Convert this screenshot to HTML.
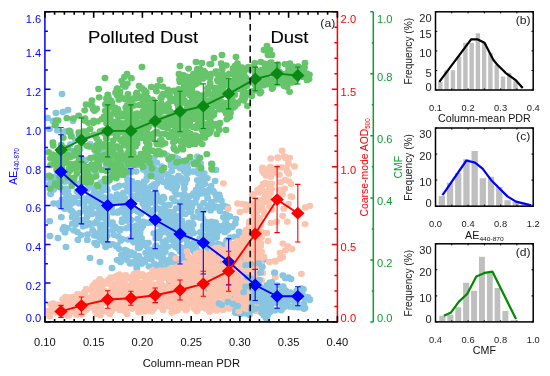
<!DOCTYPE html>
<html><head><meta charset="utf-8"><title>Figure</title>
<style>html,body{margin:0;padding:0;background:#fff}svg{display:block}</style>
</head><body>
<svg width="550" height="376" viewBox="0 0 550 376" font-family='"Liberation Sans", sans-serif'>
<path d="M168.8 177.0h0.6M61.0 217.2h0.6M121.6 221.9h0.6M182.8 264.9h0.6M245.8 278.9h0.6M222.8 250.1h0.6M134.0 231.2h0.6M229.7 216.3h0.6M116.9 245.4h0.6M115.6 166.9h0.6M140.0 165.0h0.6M218.4 230.7h0.6M64.8 131.5h0.6M141.4 241.2h0.6M228.5 291.7h0.6M65.6 163.0h0.6M90.8 165.1h0.6M237.7 267.8h0.6M198.2 173.5h0.6M197.3 253.2h0.6M205.3 192.1h0.6M206.3 266.9h0.6M119.7 259.9h0.6M175.9 225.9h0.6M170.7 165.8h0.6M159.4 199.9h0.6M118.2 186.3h0.6M232.0 227.1h0.6M188.8 267.4h0.6M192.6 260.5h0.6M207.0 193.4h0.6M147.8 222.8h0.6M131.0 227.6h0.6M158.2 180.1h0.6M205.8 287.1h0.6M124.8 249.8h0.6M197.9 263.1h0.6M161.6 221.6h0.6M189.9 226.7h0.6M122.1 219.4h0.6M130.7 210.2h0.6M81.5 136.6h0.6M244.5 313.3h0.6M156.6 183.6h0.6M202.2 218.2h0.6M243.8 255.8h0.6M149.8 158.8h0.6M170.5 162.3h0.6M235.3 291.6h0.6M211.0 242.2h0.6M183.4 183.9h0.6M193.0 250.6h0.6M145.9 180.3h0.6M127.7 157.2h0.6M165.1 268.2h0.6M143.7 205.3h0.6M96.6 197.3h0.6M135.2 225.8h0.6M154.4 209.5h0.6M50.3 179.8h0.6M60.4 163.9h0.6M161.1 202.1h0.6M164.0 209.8h0.6M125.3 220.7h0.6M241.1 280.2h0.6M198.1 271.5h0.6M72.7 152.8h0.6M186.3 226.4h0.6M193.3 217.2h0.6M214.8 181.0h0.6M89.9 200.2h0.6M123.7 198.1h0.6M103.7 216.1h0.6M106.8 223.1h0.6M171.3 182.9h0.6M190.2 259.0h0.6M187.9 246.9h0.6M144.7 261.5h0.6M125.4 255.6h0.6M209.1 234.0h0.6M210.9 201.8h0.6M174.4 264.5h0.6M241.9 273.0h0.6M177.1 218.9h0.6M149.0 255.2h0.6M143.2 183.2h0.6M203.5 260.3h0.6M137.7 183.1h0.6M184.0 276.3h0.6M79.0 159.7h0.6M70.1 131.5h0.6M139.0 245.5h0.6M155.4 198.8h0.6M109.3 203.6h0.6M49.2 128.9h0.6M175.3 281.9h0.6M233.5 262.6h0.6M208.5 234.5h0.6M230.4 286.5h0.6M137.8 211.7h0.6M187.3 167.5h0.6M233.8 308.8h0.6M211.2 290.4h0.6M224.7 261.7h0.6M191.1 283.9h0.6M109.6 196.3h0.6M141.8 190.1h0.6M105.2 183.6h0.6M234.8 293.7h0.6M227.1 230.3h0.6M199.4 294.8h0.6M127.1 210.6h0.6M167.7 270.6h0.6M237.7 282.7h0.6M63.2 199.7h0.6M207.0 178.1h0.6M136.6 184.6h0.6M70.0 144.3h0.6M79.7 149.3h0.6M144.0 199.0h0.6M223.5 225.3h0.6M185.9 227.7h0.6M69.7 181.5h0.6M165.9 240.4h0.6M169.0 204.9h0.6M192.3 204.0h0.6M217.1 296.8h0.6M189.1 236.8h0.6M156.4 195.1h0.6M191.1 224.6h0.6M244.0 295.3h0.6M91.0 214.0h0.6M240.6 286.1h0.6M113.4 157.9h0.6M175.2 263.7h0.6M218.7 226.1h0.6M137.6 199.1h0.6M164.4 205.2h0.6M148.6 266.3h0.6M135.0 256.1h0.6M209.0 233.3h0.6M156.0 201.2h0.6M183.3 164.9h0.6M202.8 235.2h0.6M162.4 272.7h0.6M161.4 225.7h0.6M70.8 135.1h0.6M164.5 260.4h0.6M125.6 206.8h0.6M60.2 166.8h0.6M94.1 190.8h0.6M137.8 248.0h0.6M209.1 250.1h0.6M225.3 259.1h0.6M231.4 307.1h0.6M181.1 224.8h0.6M158.5 235.5h0.6M143.9 181.4h0.6M182.7 198.4h0.6M167.9 185.8h0.6M138.4 256.0h0.6M170.5 234.1h0.6M111.4 207.2h0.6M186.5 173.5h0.6M130.8 172.1h0.6M186.4 179.2h0.6M237.7 283.6h0.6M171.2 177.6h0.6M208.8 241.1h0.6M245.6 267.4h0.6M206.5 229.2h0.6M178.2 175.8h0.6M137.0 190.1h0.6M237.9 249.6h0.6M184.2 251.8h0.6M133.6 234.1h0.6M243.2 299.6h0.6M182.8 164.0h0.6M210.1 271.2h0.6M101.4 151.7h0.6M158.5 224.6h0.6M198.7 193.9h0.6M165.0 251.8h0.6M185.1 204.4h0.6M222.0 270.6h0.6M120.0 197.1h0.6M129.9 183.3h0.6M145.5 243.2h0.6M131.9 255.0h0.6M118.8 248.8h0.6M194.2 252.3h0.6M164.9 227.7h0.6M145.3 209.6h0.6M193.0 262.4h0.6M63.2 161.2h0.6M113.7 234.8h0.6M186.7 268.6h0.6M184.5 252.0h0.6M197.0 180.1h0.6M200.6 285.2h0.6M215.9 195.6h0.6M153.8 184.4h0.6M247.6 269.0h0.6M248.7 290.8h0.6M128.0 203.7h0.6M126.3 228.2h0.6M160.6 271.6h0.6M100.7 182.5h0.6M105.7 168.1h0.6M133.8 242.4h0.6M150.3 197.8h0.6M163.7 198.4h0.6M208.0 226.3h0.6M221.2 271.0h0.6M205.4 221.7h0.6M175.1 225.3h0.6M237.1 249.0h0.6M169.1 230.4h0.6M171.4 239.9h0.6M103.3 230.0h0.6M219.7 244.6h0.6M159.4 270.7h0.6M202.7 190.5h0.6M232.7 265.1h0.6M83.5 165.0h0.6M201.8 183.6h0.6M203.1 251.4h0.6M225.4 276.8h0.6M230.9 226.4h0.6M121.9 239.0h0.6M184.8 183.3h0.6M178.4 238.0h0.6M197.0 172.6h0.6M234.2 248.7h0.6M175.5 259.0h0.6M197.7 251.1h0.6M173.6 245.3h0.6M173.2 221.6h0.6M95.4 173.3h0.6M226.2 218.7h0.6M220.3 248.7h0.6M245.0 281.9h0.6M198.4 241.8h0.6M201.6 253.9h0.6M163.5 252.9h0.6M203.1 225.3h0.6M137.0 229.9h0.6M129.7 263.6h0.6M131.6 181.2h0.6M199.7 206.5h0.6M231.9 283.0h0.6M95.9 243.5h0.6M175.5 247.1h0.6M149.4 194.9h0.6M116.2 246.5h0.6M126.7 185.1h0.6M239.0 236.5h0.6M144.6 206.9h0.6M122.0 200.5h0.6M186.3 164.4h0.6M73.1 197.8h0.6M165.8 174.2h0.6M49.0 184.6h0.6M116.5 165.1h0.6M204.0 227.6h0.6M72.8 150.9h0.6M129.5 226.2h0.6M238.8 298.9h0.6M183.5 255.0h0.6M136.1 235.8h0.6M247.5 284.5h0.6M133.6 253.6h0.6M203.0 264.4h0.6M241.9 304.1h0.6M115.2 197.5h0.6M210.3 210.4h0.6M233.2 295.6h0.6M191.1 228.4h0.6M118.0 211.5h0.6M248.9 264.0h0.6M88.3 167.0h0.6M106.6 203.9h0.6M137.4 218.9h0.6M48.6 178.5h0.6M171.9 198.3h0.6M57.4 129.4h0.6M204.0 245.7h0.6M190.6 245.9h0.6M140.9 185.4h0.6M219.6 211.1h0.6M232.8 290.7h0.6M172.6 274.6h0.6M222.4 261.6h0.6M218.8 194.6h0.6M181.0 178.1h0.6M173.7 244.8h0.6M179.6 215.5h0.6M196.1 259.9h0.6M122.5 209.0h0.6M208.4 205.4h0.6M243.2 247.6h0.6M171.7 187.6h0.6M209.3 230.8h0.6M208.7 226.5h0.6M207.8 277.6h0.6M162.6 242.2h0.6M160.7 213.2h0.6M174.7 191.7h0.6M180.9 208.3h0.6M159.7 269.7h0.6M113.8 171.1h0.6M235.0 267.8h0.6M175.6 217.1h0.6M183.7 196.9h0.6M74.3 215.6h0.6M231.5 291.8h0.6M231.8 254.6h0.6M178.0 159.0h0.6M213.6 192.2h0.6M212.6 234.4h0.6M127.5 216.2h0.6M208.0 223.7h0.6M190.0 293.8h0.6M115.8 152.8h0.6M105.4 247.1h0.6M134.5 208.9h0.6M231.4 280.4h0.6M137.9 164.4h0.6M121.1 259.9h0.6M190.4 246.8h0.6M232.8 293.2h0.6M208.4 244.2h0.6M175.1 165.9h0.6M212.8 224.6h0.6M98.8 217.8h0.6M129.4 166.7h0.6M193.0 224.6h0.6M160.4 214.3h0.6M209.7 253.9h0.6M116.5 228.4h0.6M232.4 286.4h0.6M193.1 268.9h0.6M225.6 213.8h0.6M132.4 183.9h0.6M212.3 293.5h0.6M193.4 233.1h0.6M229.3 255.7h0.6M138.7 189.6h0.6M72.1 223.7h0.6M185.8 284.1h0.6M154.1 263.9h0.6M220.1 271.2h0.6M106.8 182.3h0.6M168.1 178.6h0.6M154.7 234.0h0.6M183.6 258.3h0.6M161.6 210.6h0.6M213.0 236.5h0.6M221.1 200.6h0.6M112.2 230.5h0.6M238.3 250.9h0.6M171.3 255.2h0.6M162.5 249.0h0.6M200.9 262.9h0.6M164.7 205.4h0.6M160.0 209.5h0.6M191.3 207.7h0.6M206.6 242.9h0.6M242.3 276.8h0.6M85.6 160.0h0.6M214.3 207.6h0.6M56.1 181.5h0.6M230.2 278.6h0.6M171.6 188.4h0.6M184.2 171.5h0.6M186.1 258.8h0.6M169.4 230.6h0.6M243.2 255.8h0.6M90.3 198.2h0.6M191.2 243.8h0.6M106.9 190.2h0.6M182.7 257.5h0.6M168.7 277.0h0.6M243.6 284.0h0.6M140.4 161.9h0.6M175.9 208.4h0.6M201.9 292.2h0.6M199.2 257.2h0.6M228.4 228.3h0.6M71.7 168.7h0.6M138.6 193.9h0.6M137.7 225.4h0.6M155.5 245.7h0.6M194.8 281.1h0.6M197.0 255.2h0.6M243.2 250.5h0.6M163.0 196.9h0.6M111.9 160.7h0.6M189.0 202.5h0.6M203.0 179.5h0.6M154.2 248.3h0.6M201.0 212.5h0.6M174.0 162.8h0.6M151.3 159.4h0.6M203.7 257.6h0.6M147.9 195.8h0.6M59.1 205.2h0.6M244.0 248.6h0.6M156.8 222.8h0.6M141.9 193.7h0.6M132.7 230.3h0.6M151.3 164.0h0.6M133.1 238.7h0.6M127.9 216.2h0.6M127.0 168.8h0.6M212.7 190.8h0.6M201.6 184.0h0.6M215.8 266.0h0.6M247.8 268.0h0.6M238.1 271.3h0.6M192.3 223.4h0.6M213.9 293.7h0.6M152.9 185.1h0.6M189.0 290.9h0.6M225.0 219.0h0.6M191.9 295.2h0.6M205.5 239.2h0.6M88.1 172.1h0.6M197.8 211.8h0.6M231.0 249.7h0.6M167.8 211.5h0.6M111.4 164.5h0.6M238.0 300.1h0.6M140.6 228.8h0.6M117.7 197.8h0.6M217.2 245.1h0.6M210.9 224.3h0.6M211.3 256.5h0.6M160.7 216.8h0.6M174.0 257.0h0.6M85.2 171.0h0.6M201.1 215.5h0.6M161.9 216.1h0.6M154.5 187.4h0.6M185.0 214.1h0.6M199.5 238.4h0.6M200.5 270.1h0.6M188.7 264.9h0.6M188.1 267.2h0.6M54.3 176.9h0.6M106.2 188.1h0.6M243.1 265.3h0.6M133.0 241.4h0.6M204.4 183.7h0.6M136.5 268.5h0.6M229.7 282.2h0.6M183.7 271.6h0.6M237.8 247.7h0.6M154.7 250.1h0.6M156.5 162.6h0.6M126.8 259.8h0.6M114.9 201.8h0.6M150.7 174.0h0.6M207.1 305.6h0.6M128.5 203.1h0.6M239.7 252.4h0.6M122.4 161.3h0.6M134.7 209.8h0.6M229.5 272.3h0.6M182.9 280.4h0.6M165.0 243.4h0.6M228.6 287.7h0.6M170.8 278.3h0.6M112.8 212.6h0.6M217.7 243.9h0.6M176.4 186.4h0.6M195.0 202.0h0.6M162.6 251.1h0.6M73.8 200.6h0.6M132.3 240.8h0.6M151.4 275.1h0.6M131.9 208.6h0.6M155.5 221.5h0.6M164.4 208.2h0.6M181.6 220.6h0.6M209.9 255.4h0.6M206.0 277.6h0.6M193.6 277.2h0.6M167.3 186.6h0.6M174.4 233.9h0.6M230.2 264.6h0.6M88.2 184.6h0.6M195.7 245.7h0.6M145.3 252.9h0.6M143.6 243.9h0.6M142.2 244.7h0.6M98.5 202.6h0.6M64.5 192.5h0.6M99.3 224.6h0.6M203.9 173.4h0.6M186.4 247.0h0.6M121.4 209.8h0.6M239.9 232.4h0.6M168.4 178.5h0.6M219.0 207.1h0.6M101.7 233.9h0.6M161.4 166.4h0.6M187.7 228.9h0.6M115.8 174.3h0.6M217.1 296.7h0.6M227.3 270.3h0.6M201.5 237.4h0.6M181.6 209.7h0.6M227.9 239.8h0.6M181.7 167.3h0.6M212.6 274.8h0.6M180.2 247.1h0.6M104.7 228.4h0.6M191.0 260.2h0.6M183.3 268.5h0.6M57.7 158.9h0.6M215.7 286.1h0.6M180.7 258.9h0.6M124.7 198.1h0.6M123.6 205.6h0.6M208.3 225.2h0.6M159.7 217.7h0.6M186.8 266.4h0.6M57.3 173.3h0.6M211.8 204.6h0.6M155.5 238.3h0.6M96.5 221.4h0.6M98.0 194.7h0.6M151.4 162.1h0.6M119.5 174.9h0.6M201.8 177.5h0.6M223.1 205.3h0.6M127.9 254.2h0.6M227.0 258.7h0.6M183.8 193.8h0.6M213.8 257.6h0.6M173.2 279.8h0.6M200.8 238.7h0.6M149.7 195.9h0.6M159.6 271.5h0.6M224.5 225.3h0.6M136.2 225.3h0.6M133.4 164.1h0.6M168.2 262.6h0.6M127.5 239.6h0.6M239.9 314.2h0.6M190.5 212.0h0.6M148.1 242.9h0.6M209.5 227.3h0.6M178.7 277.7h0.6M98.8 237.2h0.6M154.9 176.8h0.6M206.5 226.4h0.6M158.3 247.6h0.6M170.3 227.5h0.6M109.5 178.4h0.6M243.3 282.5h0.6M225.4 270.1h0.6M242.6 270.7h0.6M236.4 295.5h0.6M57.1 130.4h0.6M94.4 243.0h0.6M67.7 190.4h0.6M137.2 241.2h0.6M192.8 171.5h0.6M167.0 262.9h0.6M210.7 186.2h0.6M235.6 218.9h0.6M139.3 247.8h0.6M156.5 219.2h0.6M193.8 242.4h0.6M164.1 247.5h0.6M99.0 195.8h0.6M135.0 263.9h0.6M179.7 227.9h0.6M216.6 234.6h0.6M143.7 184.2h0.6M203.3 193.4h0.6M108.0 154.9h0.6M235.9 268.1h0.6M223.1 206.7h0.6M190.7 295.5h0.6M162.5 171.9h0.6M247.6 299.0h0.6M126.7 173.8h0.6M153.9 194.4h0.6M237.7 277.1h0.6M149.7 173.7h0.6M199.5 187.6h0.6M218.8 265.2h0.6M182.4 229.5h0.6M172.9 211.9h0.6M168.6 159.5h0.6M176.1 159.8h0.6M213.5 298.1h0.6M147.1 172.2h0.6M159.5 250.9h0.6M203.0 283.3h0.6M243.6 266.2h0.6M247.2 267.1h0.6M203.2 227.1h0.6M171.2 187.1h0.6M181.0 163.3h0.6M242.4 241.1h0.6M181.4 247.9h0.6M140.3 239.1h0.6M124.5 205.6h0.6M204.4 268.8h0.6M162.3 257.7h0.6M163.4 259.2h0.6M201.1 243.0h0.6M206.4 243.8h0.6M128.1 165.3h0.6M183.5 167.7h0.6M152.4 219.9h0.6M105.4 238.3h0.6M179.8 240.0h0.6M225.4 222.7h0.6M169.5 225.5h0.6M179.8 251.5h0.6M100.6 197.9h0.6M238.8 231.6h0.6M69.4 154.5h0.6M95.6 151.9h0.6M208.3 251.5h0.6M189.9 196.1h0.6M213.1 228.5h0.6M81.8 177.9h0.6M162.3 252.5h0.6M145.7 245.8h0.6M75.2 139.9h0.6M124.2 213.5h0.6M214.4 300.3h0.6M242.2 280.3h0.6M139.8 232.9h0.6M119.0 185.6h0.6M146.6 258.7h0.6M216.2 199.5h0.6M178.0 180.7h0.6M122.8 256.5h0.6M74.1 164.6h0.6M121.2 255.0h0.6M182.9 260.6h0.6M223.0 217.1h0.6M198.2 168.3h0.6M142.4 203.3h0.6M138.6 191.2h0.6M208.0 224.1h0.6M246.9 273.9h0.6M68.0 208.2h0.6M158.2 208.7h0.6M215.0 206.4h0.6M141.2 238.1h0.6M232.9 257.6h0.6M207.3 197.8h0.6M152.0 274.1h0.6M159.0 177.5h0.6M227.2 207.2h0.6M120.5 229.1h0.6M198.0 256.7h0.6M189.1 272.0h0.6M180.3 206.0h0.6M206.3 268.9h0.6M185.8 225.4h0.6M136.5 165.2h0.6M226.4 240.3h0.6M140.9 223.8h0.6M188.3 268.0h0.6M126.1 220.5h0.6M155.8 208.0h0.6M239.7 287.3h0.6M148.3 204.1h0.6M247.8 248.4h0.6M164.4 261.3h0.6M196.2 197.8h0.6M197.3 160.9h0.6M167.2 232.7h0.6M228.2 299.5h0.6M215.5 292.8h0.6M146.5 172.6h0.6M215.2 230.5h0.6M227.3 239.9h0.6M186.6 240.4h0.6M104.6 156.4h0.6M112.1 222.4h0.6M131.5 195.5h0.6M139.2 248.1h0.6M216.3 237.5h0.6M246.9 272.5h0.6M162.8 272.4h0.6M213.6 238.3h0.6M104.5 199.2h0.6M69.6 198.8h0.6M185.0 272.6h0.6M239.1 285.0h0.6M218.4 272.5h0.6M221.3 259.0h0.6M189.5 249.1h0.6M113.9 212.3h0.6M211.3 252.7h0.6M221.6 255.8h0.6M172.9 183.4h0.6M175.6 220.2h0.6M184.1 188.6h0.6M160.8 178.6h0.6M130.2 211.1h0.6M175.5 246.5h0.6M114.7 226.6h0.6M126.4 250.7h0.6M166.3 223.8h0.6M154.6 203.1h0.6M87.2 234.5h0.6M225.2 274.6h0.6M125.3 209.7h0.6M198.7 167.4h0.6M179.8 168.3h0.6M180.6 177.9h0.6M174.7 239.8h0.6M215.3 222.5h0.6M150.6 253.7h0.6M140.7 213.7h0.6M193.3 250.2h0.6M234.3 261.5h0.6M178.0 176.6h0.6M222.5 248.8h0.6M124.9 185.3h0.6M151.1 186.5h0.6M206.9 248.9h0.6M117.3 171.7h0.6M241.4 278.6h0.6M182.0 225.8h0.6M141.1 227.6h0.6M245.4 302.4h0.6M119.6 230.4h0.6M236.4 255.6h0.6M216.4 254.4h0.6M105.8 163.3h0.6M187.0 250.4h0.6M150.5 222.4h0.6M127.8 181.2h0.6M170.2 217.5h0.6M131.7 205.1h0.6M214.8 292.3h0.6M179.8 261.5h0.6M169.8 213.6h0.6M205.4 292.1h0.6M160.2 172.7h0.6M249.0 302.4h0.6M202.8 293.9h0.6M213.5 288.6h0.6M175.8 247.0h0.6M234.2 236.8h0.6M183.2 235.8h0.6M158.7 237.9h0.6M143.1 260.0h0.6M163.0 181.8h0.6M223.5 226.8h0.6M158.8 231.4h0.6M153.7 193.7h0.6M214.3 231.1h0.6M188.2 293.6h0.6M211.9 292.2h0.6M182.4 269.8h0.6M154.7 168.9h0.6M158.0 256.4h0.6M153.5 233.3h0.6M128.2 217.0h0.6M167.0 155.4h0.6M186.8 250.1h0.6M216.6 252.3h0.6M224.5 232.2h0.6M211.7 300.4h0.6M158.8 171.0h0.6M123.1 192.9h0.6M109.4 244.9h0.6M104.7 203.9h0.6M165.4 216.8h0.6M195.8 189.8h0.6M169.1 281.1h0.6M235.1 312.8h0.6M131.0 252.3h0.6M101.5 187.0h0.6M112.4 244.1h0.6M138.9 258.9h0.6M118.8 201.2h0.6M174.0 201.0h0.6M200.3 163.4h0.6M62.6 229.4h0.6M177.1 243.5h0.6M177.8 247.9h0.6M120.2 262.1h0.6M93.0 187.6h0.6M176.4 194.6h0.6M249.0 314.8h0.6M207.7 206.6h0.6M173.9 281.3h0.6M179.3 202.4h0.6M226.3 253.6h0.6M86.8 189.5h0.6M154.5 254.4h0.6M165.6 219.2h0.6M117.9 236.3h0.6M238.0 269.7h0.6M169.7 259.4h0.6M239.4 280.7h0.6M187.0 245.2h0.6M214.2 289.1h0.6M91.5 208.0h0.6M243.3 261.9h0.6M137.8 194.3h0.6M203.3 203.0h0.6M173.7 214.9h0.6M121.8 172.1h0.6M212.4 256.1h0.6M130.8 188.8h0.6M187.6 233.9h0.6M94.6 167.3h0.6M161.9 232.3h0.6M163.8 269.7h0.6M153.0 198.1h0.6M144.8 188.4h0.6M104.3 180.1h0.6M220.6 253.8h0.6M166.3 183.6h0.6M188.6 227.4h0.6M204.4 263.7h0.6M167.5 246.7h0.6M210.8 249.7h0.6M208.6 190.0h0.6M190.3 281.6h0.6M159.9 264.7h0.6M185.6 281.4h0.6M207.1 265.0h0.6M176.5 178.6h0.6M234.9 223.5h0.6M103.2 149.4h0.6M99.1 236.5h0.6M78.9 203.4h0.6M174.9 237.4h0.6M134.4 159.4h0.6M124.3 210.2h0.6M196.7 242.5h0.6M71.2 177.9h0.6M222.0 294.8h0.6M151.1 215.2h0.6M223.4 255.2h0.6M116.6 194.4h0.6M185.9 206.2h0.6M236.3 310.5h0.6M152.5 254.4h0.6M171.3 212.9h0.6M132.2 262.1h0.6M153.7 158.1h0.6M174.7 231.9h0.6M109.1 224.4h0.6M214.2 262.2h0.6M193.2 193.4h0.6M169.5 236.3h0.6M219.4 196.9h0.6M191.6 230.1h0.6M184.4 200.8h0.6M150.1 214.0h0.6M114.7 187.6h0.6M188.6 222.6h0.6M203.5 272.9h0.6M171.4 170.9h0.6M203.2 210.5h0.6M175.1 225.8h0.6M95.1 222.9h0.6M204.7 277.2h0.6M62.8 175.8h0.6M141.3 263.8h0.6M230.0 237.3h0.6M130.7 220.0h0.6M211.7 260.2h0.6M151.0 259.2h0.6M166.7 220.7h0.6M145.3 190.3h0.6M142.9 169.6h0.6M204.1 184.1h0.6M175.1 157.5h0.6M120.5 240.5h0.6M211.2 221.7h0.6M77.5 220.7h0.6M147.5 191.6h0.6M242.2 287.6h0.6M223.4 244.7h0.6M143.2 221.6h0.6M203.6 245.0h0.6M213.3 276.7h0.6M211.9 245.2h0.6M101.3 191.2h0.6M224.5 265.5h0.6M196.7 254.0h0.6M223.8 298.6h0.6M87.0 239.9h0.6M217.2 256.7h0.6M172.4 231.2h0.6M196.6 251.4h0.6M199.5 267.3h0.6M146.6 177.7h0.6M232.2 279.4h0.6M105.9 202.6h0.6M116.8 260.1h0.6M78.6 137.6h0.6M226.7 224.9h0.6M244.3 244.4h0.6M176.1 182.6h0.6M156.3 266.7h0.6M218.2 245.8h0.6M181.6 194.8h0.6M117.6 212.7h0.6M215.3 271.1h0.6M194.2 249.0h0.6M151.2 174.2h0.6M86.6 217.1h0.6M231.0 282.4h0.6M222.1 276.1h0.6M91.8 214.0h0.6M131.1 254.9h0.6M158.4 180.3h0.6M103.9 206.2h0.6M108.6 200.6h0.6M139.1 230.7h0.6M187.2 199.7h0.6M147.4 192.2h0.6M192.3 161.6h0.6M203.9 254.7h0.6M244.8 278.9h0.6M175.1 190.2h0.6M132.5 235.9h0.6M198.3 264.7h0.6M140.5 259.3h0.6M246.6 289.5h0.6M85.3 200.0h0.6M144.8 187.6h0.6M242.1 281.1h0.6M230.7 260.9h0.6M216.7 283.8h0.6M177.6 248.2h0.6M135.8 171.6h0.6M163.2 182.1h0.6M239.6 238.1h0.6M64.5 181.7h0.6M238.6 292.0h0.6M148.1 249.3h0.6M148.9 202.9h0.6M148.1 209.2h0.6M248.3 270.0h0.6M93.6 193.5h0.6M219.6 255.7h0.6M177.5 282.5h0.6M196.6 190.8h0.6M126.7 191.4h0.6M198.2 185.7h0.6M182.7 198.8h0.6M148.0 202.2h0.6M199.4 217.7h0.6M187.0 205.4h0.6M94.5 176.6h0.6M227.3 284.8h0.6M99.8 197.7h0.6M144.7 161.3h0.6M237.1 290.2h0.6M197.2 257.6h0.6M78.7 183.3h0.6M210.6 226.8h0.6M155.6 192.7h0.6M217.7 303.9h0.6M241.5 256.1h0.6M227.0 289.7h0.6M226.8 218.0h0.6M115.6 187.6h0.6M225.1 253.7h0.6M187.6 172.9h0.6M202.1 279.0h0.6M126.3 168.0h0.6M186.4 250.5h0.6M106.6 164.9h0.6M137.6 258.6h0.6M135.7 197.6h0.6M162.9 212.4h0.6M100.3 226.9h0.6M213.9 252.1h0.6M135.4 228.9h0.6M133.3 189.1h0.6M89.8 144.1h0.6M142.4 226.3h0.6M185.7 200.7h0.6M127.2 179.2h0.6M152.7 185.3h0.6M111.1 176.6h0.6M200.0 232.2h0.6M225.8 305.3h0.6M225.6 228.3h0.6M139.0 261.2h0.6M153.0 173.7h0.6M159.2 235.8h0.6M161.5 261.2h0.6M245.9 281.7h0.6M191.0 278.7h0.6M234.7 249.7h0.6M233.3 262.7h0.6M53.4 203.5h0.6M162.4 277.4h0.6M188.8 211.9h0.6M236.4 258.5h0.6M173.5 230.6h0.6M192.5 224.0h0.6M145.7 166.8h0.6M224.2 279.2h0.6M124.1 156.1h0.6M234.9 303.6h0.6M247.0 311.4h0.6M184.1 207.1h0.6M102.0 228.5h0.6M88.7 196.6h0.6M106.4 231.3h0.6M90.3 210.1h0.6M65.5 188.6h0.6M101.6 225.0h0.6M82.8 226.4h0.6M99.1 212.6h0.6M75.1 224.7h0.6M84.0 202.9h0.6M73.3 230.3h0.6M105.9 210.8h0.6M63.3 188.8h0.6M93.2 223.6h0.6M85.7 225.4h0.6M98.3 218.2h0.6M88.9 223.1h0.6M106.5 216.0h0.6M76.7 202.4h0.6M88.0 209.2h0.6M99.9 199.1h0.6M104.3 242.9h0.6M61.8 199.7h0.6M88.9 198.2h0.6M76.8 191.2h0.6M83.3 198.5h0.6M71.7 202.9h0.6M102.7 204.5h0.6M89.8 201.0h0.6M74.4 222.8h0.6M101.5 240.4h0.6M87.1 210.4h0.6M102.5 225.0h0.6M95.3 203.1h0.6M106.1 216.6h0.6M77.6 239.9h0.6M71.9 217.2h0.6M79.2 212.9h0.6M107.0 204.4h0.6M80.7 235.2h0.6M103.4 212.9h0.6M76.3 219.0h0.6M50.3 194.0h0.6M99.2 200.8h0.6M85.2 211.4h0.6M105.8 246.0h0.6M91.4 205.2h0.6M98.4 215.3h0.6M77.0 231.9h0.6M64.3 208.8h0.6M106.9 235.8h0.6M63.6 227.2h0.6M64.3 205.9h0.6M70.0 209.9h0.6M49.4 221.2h0.6M95.6 234.1h0.6M106.6 219.5h0.6M98.3 207.6h0.6M81.2 219.8h0.6M71.5 210.9h0.6M67.1 228.1h0.6M94.9 233.2h0.6M64.7 232.4h0.6M104.1 218.3h0.6M85.1 207.8h0.6M51.2 191.0h0.6M68.5 195.3h0.6M70.6 204.0h0.6M96.4 245.1h0.6M83.4 221.0h0.6M78.3 202.7h0.6M58.6 203.1h0.6M95.4 200.0h0.6M61.1 203.0h0.6M66.1 192.6h0.6M66.3 201.5h0.6M64.4 231.3h0.6M91.5 201.7h0.6M62.4 189.8h0.6M78.3 195.9h0.6M76.1 215.1h0.6M66.7 193.0h0.6M94.0 235.5h0.6M104.4 209.0h0.6M73.1 216.2h0.6M66.3 196.4h0.6M53.4 189.5h0.6M100.3 229.0h0.6M72.5 212.3h0.6M96.5 213.4h0.6M73.2 201.4h0.6M105.7 219.2h0.6M92.4 230.1h0.6M89.3 224.5h0.6M103.9 197.3h0.6M61.7 94.0h0.6M55.7 113.0h0.6M62.7 112.0h0.6M67.7 110.0h0.6M47.2 118.0h0.6M52.7 121.0h0.6M72.7 121.0h0.6M49.7 236.0h0.6M57.7 238.0h0.6M65.7 247.0h0.6M89.7 258.0h0.6M99.7 262.0h0.6M111.7 268.0h0.6M215.7 170.0h0.6M211.3 163.7h0.6M197.1 156.6h0.6M225.5 206.3h0.6M274.5 272.9h0.6M263.7 259.6h0.6M261.2 265.0h0.6M285.1 278.2h0.6M309.1 299.5h0.6M303.7 308.8h0.6M263.7 315.4h0.6M258.7 311.4h0.6M266.5 318.0h0.6" stroke="#87c5e0" stroke-width="6.3" stroke-linecap="round" fill="none"/>
<path d="M85.1 296.5h0.6M182.8 306.7h0.6M99.2 302.4h0.6M129.5 303.4h0.6M204.8 258.3h0.6M131.8 279.4h0.6M232.3 279.8h0.6M230.6 255.9h0.6M238.2 296.8h0.6M239.4 302.5h0.6M171.8 279.8h0.6M212.9 273.1h0.6M187.8 269.3h0.6M169.8 275.2h0.6M71.4 308.9h0.6M221.2 294.7h0.6M77.2 294.2h0.6M187.7 296.3h0.6M65.1 296.9h0.6M187.9 256.3h0.6M149.1 274.9h0.6M91.9 297.6h0.6M225.6 296.0h0.6M161.3 273.1h0.6M164.2 287.8h0.6M187.0 275.1h0.6M161.6 274.9h0.6M170.6 287.8h0.6M245.9 231.8h0.6M169.0 305.4h0.6M114.1 284.9h0.6M143.9 305.4h0.6M228.8 308.7h0.6M178.1 296.3h0.6M117.8 286.8h0.6M206.4 280.1h0.6M197.0 278.1h0.6M101.6 286.5h0.6M67.4 297.5h0.6M243.2 276.1h0.6M214.2 264.6h0.6M145.1 307.7h0.6M216.1 310.6h0.6M201.9 292.5h0.6M147.9 292.8h0.6M191.9 304.6h0.6M231.4 257.6h0.6M243.1 303.6h0.6M128.4 291.2h0.6M236.0 270.6h0.6M217.6 266.2h0.6M221.8 250.0h0.6M194.8 306.3h0.6M201.5 288.1h0.6M242.4 241.4h0.6M220.4 249.5h0.6M85.4 301.7h0.6M116.6 283.1h0.6M176.5 284.5h0.6M208.1 263.3h0.6M247.4 276.1h0.6M187.6 287.8h0.6M162.3 301.7h0.6M102.8 291.7h0.6M95.6 282.4h0.6M187.3 265.3h0.6M112.1 283.5h0.6M244.1 269.1h0.6M140.6 292.6h0.6M168.2 287.6h0.6M237.1 247.7h0.6M205.9 300.6h0.6M48.1 313.1h0.6M204.1 272.5h0.6M152.8 284.4h0.6M216.3 287.2h0.6M72.5 302.4h0.6M231.3 300.3h0.6M241.2 253.6h0.6M121.4 281.1h0.6M229.6 272.3h0.6M64.7 299.9h0.6M238.2 258.8h0.6M191.8 301.0h0.6M153.7 273.5h0.6M103.1 300.1h0.6M155.8 290.1h0.6M224.9 286.1h0.6M49.4 316.2h0.6M199.0 293.8h0.6M127.3 290.4h0.6M153.3 275.1h0.6M189.5 284.4h0.6M209.9 279.7h0.6M199.9 307.0h0.6M195.2 271.8h0.6M124.1 286.4h0.6M70.9 311.2h0.6M183.2 265.7h0.6M248.8 271.3h0.6M137.8 302.7h0.6M171.5 312.5h0.6M164.6 299.1h0.6M226.0 280.1h0.6M248.7 254.3h0.6M142.9 288.0h0.6M182.1 280.0h0.6M169.3 269.2h0.6M226.8 265.6h0.6M166.8 278.3h0.6M207.4 294.6h0.6M200.7 252.8h0.6M235.7 253.5h0.6M144.5 275.6h0.6M100.9 308.8h0.6M178.8 305.2h0.6M159.4 306.3h0.6M188.6 280.2h0.6M191.7 261.9h0.6M145.4 281.7h0.6M217.5 307.8h0.6M79.4 312.2h0.6M235.7 272.0h0.6M109.3 311.1h0.6M219.6 294.3h0.6M226.4 296.1h0.6M134.2 295.8h0.6M238.3 258.9h0.6M139.0 274.8h0.6M70.5 304.3h0.6M170.1 293.2h0.6M113.2 292.6h0.6M62.4 299.3h0.6M100.2 315.2h0.6M175.3 302.4h0.6M213.6 291.7h0.6M93.3 284.8h0.6M199.5 297.3h0.6M213.1 298.3h0.6M217.3 294.0h0.6M184.7 263.5h0.6M107.0 281.3h0.6M150.9 304.4h0.6M136.4 304.0h0.6M138.1 274.0h0.6M69.0 301.7h0.6M55.3 306.2h0.6M199.4 276.6h0.6M93.0 308.0h0.6M241.3 286.2h0.6M205.5 255.6h0.6M123.4 302.1h0.6M109.0 304.5h0.6M196.8 305.8h0.6M170.0 296.8h0.6M123.0 296.8h0.6M122.7 309.4h0.6M245.8 229.9h0.6M129.6 305.1h0.6M136.0 286.4h0.6M210.6 296.9h0.6M220.6 295.5h0.6M95.1 299.9h0.6M140.4 293.6h0.6M142.2 274.2h0.6M186.9 309.0h0.6M181.4 298.5h0.6M129.2 295.8h0.6M161.6 274.4h0.6M196.8 271.3h0.6M218.1 305.0h0.6M248.0 228.6h0.6M203.8 254.3h0.6M200.8 307.2h0.6M159.5 271.5h0.6M183.5 277.9h0.6M80.5 305.2h0.6M123.2 294.5h0.6M245.9 288.1h0.6M220.7 276.1h0.6M136.0 280.5h0.6M72.9 305.1h0.6M160.2 306.7h0.6M137.8 300.6h0.6M209.1 273.8h0.6M84.0 300.1h0.6M93.8 297.6h0.6M190.7 263.9h0.6M246.9 289.8h0.6M197.9 299.6h0.6M193.3 291.1h0.6M81.0 309.0h0.6M249.2 261.0h0.6M51.5 309.0h0.6M242.0 282.9h0.6M173.6 284.1h0.6M200.7 260.5h0.6M142.7 294.7h0.6M161.4 274.1h0.6M234.3 301.6h0.6M219.1 283.6h0.6M178.9 265.4h0.6M189.7 272.5h0.6M207.7 280.3h0.6M137.1 295.9h0.6M164.3 295.9h0.6M81.4 305.4h0.6M246.3 248.4h0.6M165.1 300.3h0.6M210.9 258.6h0.6M77.6 313.6h0.6M138.2 286.6h0.6M194.8 302.3h0.6M126.8 314.1h0.6M179.0 299.4h0.6M219.9 257.8h0.6M154.3 287.9h0.6M225.2 264.9h0.6M204.8 278.8h0.6M188.0 289.7h0.6M71.4 308.0h0.6M203.3 307.1h0.6M152.4 290.8h0.6M163.5 300.7h0.6M192.4 259.3h0.6M195.0 292.5h0.6M139.0 293.1h0.6M190.9 260.6h0.6M220.5 290.9h0.6M113.1 293.3h0.6M160.0 304.9h0.6M65.4 311.8h0.6M123.4 279.4h0.6M138.7 301.6h0.6M86.5 308.2h0.6M202.5 261.7h0.6M117.3 277.7h0.6M104.3 311.2h0.6M229.0 294.8h0.6M215.2 280.8h0.6M238.5 311.2h0.6M177.7 299.9h0.6M225.0 303.6h0.6M232.0 260.1h0.6M140.2 303.4h0.6M107.7 283.5h0.6M222.4 278.1h0.6M187.3 284.7h0.6M242.2 268.6h0.6M238.8 302.5h0.6M194.7 309.2h0.6M92.4 307.5h0.6M93.4 294.5h0.6M199.2 253.0h0.6M208.3 285.9h0.6M116.8 290.5h0.6M188.6 272.1h0.6M246.6 309.1h0.6M232.7 302.7h0.6M60.4 305.1h0.6M95.1 311.2h0.6M232.4 258.4h0.6M241.1 270.2h0.6M203.9 258.1h0.6M110.4 312.6h0.6M210.0 309.2h0.6M201.8 264.4h0.6M199.1 290.9h0.6M96.7 313.8h0.6M206.4 298.0h0.6M246.5 252.9h0.6M247.1 238.3h0.6M223.6 306.3h0.6M198.1 303.3h0.6M145.4 279.6h0.6M220.3 271.3h0.6M192.8 277.5h0.6M238.1 273.1h0.6M191.1 297.7h0.6M242.9 297.8h0.6M72.5 304.0h0.6M75.3 306.0h0.6M158.4 271.4h0.6M98.5 282.4h0.6M215.0 259.6h0.6M221.2 303.9h0.6M225.7 291.8h0.6M216.0 272.7h0.6M178.2 300.0h0.6M72.5 306.5h0.6M192.9 303.6h0.6M240.6 289.3h0.6M190.5 257.9h0.6M140.8 285.4h0.6M160.7 305.8h0.6M224.7 262.5h0.6M241.4 291.0h0.6M121.1 308.4h0.6M248.0 282.1h0.6M190.4 277.4h0.6M198.4 289.4h0.6M155.7 277.0h0.6M172.9 287.8h0.6M139.7 298.6h0.6M239.7 288.2h0.6M249.0 254.9h0.6M77.0 299.7h0.6M237.1 259.3h0.6M175.9 299.8h0.6M119.5 289.6h0.6M122.3 294.5h0.6M123.4 276.2h0.6M144.4 276.7h0.6M171.7 268.1h0.6M196.5 311.2h0.6M203.1 262.8h0.6M136.6 307.5h0.6M58.6 312.1h0.6M194.7 261.9h0.6M170.5 270.6h0.6M240.5 250.1h0.6M217.3 275.3h0.6M142.3 282.7h0.6M118.1 300.7h0.6M158.9 299.6h0.6M111.4 303.0h0.6M116.8 275.7h0.6M54.0 310.8h0.6M217.7 292.1h0.6M90.4 290.1h0.6M66.8 315.5h0.6M232.0 243.8h0.6M133.4 285.7h0.6M148.8 277.8h0.6M215.4 282.3h0.6M180.4 280.4h0.6M199.4 267.1h0.6M79.7 294.4h0.6M139.8 289.5h0.6M201.9 301.2h0.6M133.9 273.8h0.6M194.8 257.0h0.6M129.6 289.4h0.6M184.6 271.5h0.6M162.8 310.1h0.6M227.0 287.8h0.6M89.7 300.9h0.6M211.2 308.8h0.6M239.8 240.9h0.6M183.6 302.3h0.6M248.1 300.4h0.6M229.2 288.1h0.6M171.9 271.7h0.6M115.0 302.5h0.6M192.5 298.0h0.6M192.4 276.4h0.6M220.1 271.5h0.6M247.5 247.7h0.6M235.8 294.8h0.6M108.1 279.9h0.6M52.9 303.5h0.6M216.2 298.2h0.6M145.8 295.5h0.6M244.0 305.1h0.6M125.3 275.1h0.6M229.9 285.6h0.6M225.1 249.8h0.6M231.0 292.5h0.6M179.8 307.8h0.6M148.6 286.0h0.6M134.4 297.5h0.6M210.9 286.5h0.6M235.4 286.9h0.6M131.5 280.1h0.6M104.4 290.9h0.6M115.0 295.7h0.6M98.7 288.4h0.6M79.2 299.7h0.6M240.0 262.7h0.6M209.9 301.8h0.6M247.3 242.2h0.6M234.2 247.0h0.6M134.2 279.3h0.6M240.0 291.8h0.6M96.1 307.0h0.6M226.7 282.6h0.6M153.1 303.5h0.6M127.3 291.0h0.6M89.0 297.9h0.6M200.1 275.4h0.6M240.8 267.6h0.6M244.3 295.2h0.6M248.0 251.6h0.6M228.3 262.0h0.6M137.1 291.9h0.6M197.2 303.7h0.6M161.7 297.3h0.6M153.2 274.7h0.6M101.3 280.8h0.6M64.8 313.5h0.6M95.6 283.0h0.6M116.7 288.5h0.6M205.6 258.3h0.6M74.7 311.4h0.6M87.1 303.6h0.6M232.3 247.0h0.6M173.3 273.9h0.6M182.6 265.1h0.6M123.5 310.2h0.6M226.2 307.5h0.6M225.8 279.3h0.6M180.9 265.3h0.6M243.8 252.6h0.6M162.0 302.6h0.6M185.6 283.7h0.6M150.5 284.5h0.6M148.9 280.4h0.6M233.2 254.3h0.6M157.7 274.7h0.6M226.2 255.3h0.6M107.6 292.1h0.6M212.6 253.9h0.6M142.3 298.6h0.6M228.4 247.4h0.6M161.5 301.5h0.6M177.4 297.0h0.6M70.8 301.9h0.6M159.8 270.3h0.6M218.5 247.6h0.6M185.6 269.0h0.6M183.6 293.5h0.6M95.4 291.5h0.6M228.7 245.8h0.6M171.9 273.9h0.6M233.2 288.9h0.6M193.5 267.0h0.6M235.2 281.6h0.6M70.2 312.0h0.6M202.8 283.8h0.6M141.4 303.7h0.6M217.0 265.7h0.6M238.0 244.4h0.6M214.8 309.8h0.6M206.2 260.7h0.6M178.4 274.2h0.6M173.7 267.9h0.6M229.8 264.5h0.6M84.1 293.5h0.6M57.0 304.7h0.6M177.3 310.3h0.6M208.8 308.9h0.6M142.7 301.9h0.6M150.9 290.3h0.6M120.1 304.2h0.6M201.1 272.3h0.6M169.5 279.9h0.6M105.9 283.5h0.6M199.1 300.8h0.6M207.8 271.4h0.6M140.4 298.6h0.6M207.9 262.7h0.6M169.3 306.8h0.6M209.1 268.2h0.6M221.5 269.3h0.6M70.5 306.5h0.6M220.2 249.6h0.6M127.5 306.7h0.6M186.1 298.7h0.6M197.9 309.1h0.6M194.4 281.6h0.6M92.4 293.9h0.6M236.2 265.0h0.6M230.3 286.3h0.6M197.1 275.1h0.6M137.1 272.9h0.6M235.2 250.6h0.6M210.3 286.8h0.6M194.7 292.7h0.6M239.6 299.8h0.6M89.2 300.3h0.6M73.8 305.3h0.6M223.8 297.5h0.6M171.3 296.7h0.6M103.7 296.4h0.6M82.0 303.2h0.6M147.6 297.7h0.6M215.6 286.1h0.6M137.0 290.8h0.6M152.9 286.0h0.6M87.8 307.7h0.6M194.0 307.4h0.6M139.4 296.9h0.6M229.7 259.3h0.6M192.7 270.8h0.6M199.9 271.5h0.6M85.8 289.2h0.6M151.5 296.5h0.6M195.1 309.4h0.6M88.8 307.2h0.6M124.2 283.7h0.6M226.5 270.0h0.6M166.0 300.1h0.6M199.4 306.7h0.6M160.6 280.1h0.6M235.9 278.2h0.6M151.8 298.3h0.6M208.8 268.1h0.6M153.5 275.7h0.6M118.5 281.8h0.6M103.2 301.7h0.6M56.3 312.7h0.6M198.6 255.0h0.6M196.9 267.7h0.6M86.3 309.8h0.6M207.0 276.2h0.6M154.6 300.8h0.6M160.3 289.0h0.6M151.1 276.9h0.6M183.6 266.1h0.6M227.8 268.0h0.6M208.8 261.3h0.6M222.3 293.8h0.6M121.1 305.8h0.6M164.6 270.3h0.6M228.3 268.9h0.6M210.7 267.1h0.6M115.6 288.6h0.6M193.4 267.5h0.6M187.4 287.7h0.6M187.3 264.8h0.6M219.3 281.2h0.6M162.6 303.3h0.6M149.7 310.8h0.6M119.7 310.2h0.6M101.0 310.6h0.6M95.4 301.1h0.6M174.2 309.3h0.6M225.7 306.4h0.6M205.2 273.5h0.6M197.0 298.8h0.6M216.5 303.8h0.6M202.5 251.9h0.6M138.4 287.9h0.6M220.1 291.5h0.6M204.4 265.8h0.6M125.7 299.0h0.6M177.3 288.4h0.6M212.8 260.6h0.6M112.2 310.0h0.6M131.0 287.3h0.6M72.6 308.0h0.6M96.3 308.2h0.6M168.4 286.9h0.6M124.8 311.0h0.6M175.7 295.0h0.6M120.7 287.5h0.6M176.0 299.4h0.6M188.9 297.6h0.6M151.0 278.0h0.6M197.1 270.5h0.6M213.3 303.8h0.6M145.1 301.4h0.6M216.9 269.1h0.6M228.5 264.6h0.6M246.5 259.5h0.6M163.8 298.5h0.6M139.0 275.0h0.6M172.4 308.0h0.6M50.4 304.1h0.6M109.6 283.7h0.6M235.7 289.9h0.6M134.4 286.3h0.6M236.2 247.1h0.6M119.2 274.3h0.6M177.3 272.3h0.6M92.3 305.1h0.6M121.5 277.7h0.6M113.8 277.1h0.6M134.7 284.3h0.6M206.4 260.4h0.6M167.7 274.0h0.6M189.8 266.3h0.6M100.7 292.9h0.6M189.2 279.8h0.6M95.1 284.3h0.6M222.4 309.9h0.6M107.6 299.0h0.6M185.9 274.1h0.6M220.3 253.4h0.6M176.6 272.8h0.6M213.7 293.6h0.6M195.9 253.8h0.6M242.8 304.2h0.6M233.8 300.3h0.6M103.7 301.9h0.6M158.5 272.7h0.6M206.0 301.3h0.6M241.3 243.4h0.6M114.1 308.5h0.6M93.5 308.5h0.6M109.5 313.9h0.6M230.6 264.7h0.6M216.1 261.8h0.6M196.4 292.9h0.6M144.6 286.2h0.6M151.2 304.9h0.6M202.3 295.6h0.6M217.9 269.9h0.6M183.3 302.1h0.6M201.3 275.5h0.6M150.9 308.1h0.6M174.7 311.2h0.6M146.4 284.4h0.6M129.2 277.4h0.6M232.9 276.0h0.6M60.7 311.2h0.6M193.9 308.1h0.6M225.4 266.9h0.6M148.2 291.5h0.6M212.2 260.8h0.6M200.1 270.5h0.6M143.7 308.2h0.6M225.4 250.2h0.6M98.3 297.1h0.6M124.5 288.6h0.6M101.0 284.2h0.6M173.6 276.4h0.6M157.3 292.9h0.6M67.0 311.3h0.6M191.6 287.2h0.6M136.3 299.6h0.6M227.3 281.3h0.6M104.7 291.6h0.6M180.0 297.2h0.6M47.2 311.2h0.6M215.4 248.0h0.6M211.2 303.9h0.6M248.9 224.0h0.6M245.0 286.7h0.6M212.1 249.3h0.6M105.2 293.6h0.6M240.8 279.7h0.6M183.9 306.7h0.6M181.0 271.4h0.6M72.6 303.0h0.6M140.2 276.2h0.6M225.0 270.5h0.6M242.6 281.5h0.6M248.0 248.9h0.6M92.2 286.7h0.6M152.5 270.5h0.6M202.1 297.0h0.6M200.0 301.0h0.6M131.3 292.2h0.6M243.2 248.6h0.6M185.5 310.2h0.6M149.0 300.7h0.6M68.6 315.4h0.6M89.9 289.6h0.6M186.5 308.3h0.6M114.4 291.6h0.6M129.4 289.9h0.6M66.2 313.9h0.6M212.3 289.7h0.6M228.4 251.8h0.6M171.8 305.9h0.6M189.6 262.3h0.6M138.3 297.5h0.6M243.2 287.8h0.6M111.8 301.9h0.6M83.5 311.9h0.6M111.5 289.2h0.6M239.9 302.0h0.6M93.6 298.4h0.6M218.9 266.3h0.6M138.5 307.4h0.6M65.7 302.3h0.6M142.9 291.5h0.6M227.6 275.6h0.6M248.1 307.8h0.6M242.6 238.0h0.6M189.6 279.1h0.6M242.8 281.7h0.6M236.8 241.1h0.6M230.1 287.5h0.6M179.4 268.7h0.6M240.6 296.9h0.6M228.4 273.7h0.6M161.7 285.0h0.6M149.4 280.8h0.6M150.7 306.7h0.6M213.7 280.5h0.6M165.3 286.3h0.6M193.1 294.9h0.6M234.0 284.5h0.6M147.6 277.4h0.6M129.6 277.4h0.6M68.4 303.0h0.6M232.1 291.3h0.6M48.4 311.2h0.6M54.7 310.1h0.6M193.3 300.1h0.6M141.7 308.3h0.6M75.1 296.9h0.6M147.0 307.8h0.6M221.4 272.9h0.6M170.6 305.2h0.6M108.2 283.1h0.6M174.6 277.5h0.6M81.3 314.7h0.6M155.1 285.6h0.6M149.3 284.0h0.6M200.4 258.7h0.6M53.2 305.2h0.6M120.4 293.2h0.6M176.8 304.6h0.6M168.8 295.3h0.6M71.9 296.8h0.6M232.8 259.1h0.6M236.5 249.8h0.6M191.6 272.5h0.6M164.6 292.3h0.6M157.5 302.3h0.6M174.4 302.3h0.6M184.7 287.9h0.6M76.1 314.7h0.6M120.0 293.9h0.6M227.5 308.2h0.6M247.7 299.5h0.6M112.6 309.6h0.6M193.4 271.9h0.6M63.7 306.8h0.6M248.6 234.5h0.6M219.0 257.8h0.6M228.2 243.9h0.6M120.5 302.6h0.6M247.0 293.6h0.6M165.6 271.0h0.6M159.5 281.8h0.6M241.8 255.2h0.6M85.0 306.9h0.6M221.1 284.7h0.6M208.5 296.6h0.6M197.9 252.9h0.6M128.1 306.1h0.6M93.7 306.9h0.6M151.6 311.3h0.6M179.1 268.2h0.6M242.1 297.1h0.6M227.5 289.6h0.6M247.0 286.2h0.6M122.6 291.6h0.6M115.2 290.9h0.6M81.2 306.5h0.6M247.9 269.4h0.6M108.4 293.9h0.6M142.0 301.5h0.6M106.1 311.6h0.6M130.0 308.0h0.6M215.8 282.9h0.6M49.1 313.7h0.6M243.6 267.4h0.6M144.8 276.4h0.6M245.8 263.6h0.6M230.0 306.2h0.6M218.5 277.4h0.6M247.8 231.9h0.6M134.6 301.6h0.6M152.9 309.4h0.6M185.9 288.0h0.6M239.8 242.8h0.6M132.6 291.1h0.6M99.4 279.1h0.6M145.1 276.6h0.6M63.4 312.1h0.6M111.1 301.5h0.6M124.1 278.5h0.6M138.7 289.1h0.6M145.5 276.2h0.6M127.8 285.7h0.6M214.7 260.1h0.6M87.4 304.7h0.6M239.9 308.7h0.6M220.2 288.8h0.6M226.5 296.3h0.6M227.3 272.5h0.6M209.2 311.7h0.6M237.2 248.7h0.6M204.0 283.9h0.6M204.2 263.2h0.6M142.4 297.1h0.6M220.7 302.8h0.6M133.1 287.8h0.6M144.4 311.4h0.6M138.9 274.8h0.6M229.5 282.5h0.6M226.6 277.1h0.6M217.8 267.6h0.6M225.9 258.2h0.6M202.9 264.1h0.6M209.7 288.8h0.6M105.8 302.2h0.6M177.0 303.3h0.6M238.9 283.6h0.6M131.6 308.8h0.6M184.3 291.5h0.6M130.3 296.8h0.6M183.9 294.9h0.6M76.0 303.6h0.6M188.0 302.8h0.6M245.8 245.9h0.6M64.1 310.6h0.6M84.5 291.7h0.6M196.9 281.7h0.6M216.2 261.8h0.6M53.4 311.1h0.6M179.8 303.5h0.6M199.8 276.9h0.6M239.8 286.9h0.6M188.8 292.3h0.6M205.3 308.7h0.6M73.6 302.4h0.6M244.1 254.0h0.6M231.4 287.4h0.6M249.7 229.6h0.6M233.0 302.7h0.6M157.9 276.9h0.6M103.7 301.7h0.6M162.7 308.5h0.6M230.8 265.6h0.6M207.8 283.6h0.6M156.9 285.0h0.6M153.7 308.4h0.6M74.1 310.4h0.6M72.5 309.3h0.6M223.5 296.5h0.6M205.0 298.6h0.6M75.1 308.5h0.6M141.6 311.4h0.6M214.1 286.4h0.6M181.9 270.1h0.6M126.3 278.5h0.6M183.1 268.5h0.6M176.6 267.5h0.6M168.5 302.2h0.6M247.2 253.1h0.6M80.8 303.0h0.6M240.1 307.6h0.6M112.8 289.6h0.6M239.1 252.1h0.6M244.1 276.0h0.6M225.2 302.2h0.6M150.4 294.3h0.6M178.6 303.6h0.6M110.4 277.5h0.6M230.9 243.6h0.6M244.9 232.9h0.6M208.4 281.5h0.6M117.5 277.8h0.6M82.6 296.3h0.6M208.5 302.7h0.6M96.2 307.0h0.6M153.8 306.6h0.6M134.6 296.2h0.6M140.7 294.6h0.6M112.0 296.6h0.6M93.5 294.7h0.6M151.1 276.4h0.6M181.5 299.4h0.6M74.8 299.4h0.6M145.6 306.8h0.6M245.8 304.3h0.6M138.3 312.2h0.6M226.5 278.9h0.6M154.3 274.5h0.6M179.8 281.4h0.6M222.0 270.6h0.6M234.5 284.0h0.6M242.2 241.5h0.6M149.0 283.2h0.6M97.5 297.4h0.6M187.1 281.6h0.6M200.1 291.0h0.6M115.0 307.9h0.6M186.2 265.7h0.6M99.2 291.8h0.6M104.5 303.2h0.6M206.6 253.9h0.6M194.3 294.9h0.6M72.5 310.8h0.6M198.0 273.3h0.6M175.8 267.6h0.6M187.8 296.8h0.6M156.2 305.4h0.6M107.3 291.9h0.6M245.4 257.2h0.6M244.9 268.8h0.6M231.7 274.9h0.6M227.9 283.4h0.6M97.4 306.8h0.6M260.2 287.6h0.6M251.5 264.2h0.6M260.7 221.3h0.6M251.6 287.9h0.6M256.4 284.5h0.6M253.4 309.3h0.6M251.0 309.6h0.6M253.2 277.6h0.6M256.7 280.2h0.6M251.5 267.2h0.6M258.8 200.6h0.6M258.9 253.9h0.6M261.1 233.1h0.6M256.5 208.7h0.6M255.5 239.4h0.6M261.3 302.8h0.6M257.3 284.1h0.6M254.2 242.2h0.6M254.0 231.0h0.6M259.8 259.1h0.6M259.6 248.4h0.6M254.8 274.7h0.6M255.7 289.0h0.6M259.1 256.5h0.6M254.8 238.8h0.6M259.4 256.1h0.6M257.8 225.6h0.6M261.3 280.5h0.6M254.1 247.8h0.6M255.8 253.9h0.6M257.7 303.6h0.6M257.1 236.6h0.6M251.2 223.6h0.6M252.7 299.2h0.6M253.8 205.2h0.6M253.5 226.4h0.6M256.5 202.7h0.6M251.7 203.3h0.6M261.0 264.7h0.6M256.5 274.0h0.6M260.9 271.5h0.6M254.2 294.3h0.6M254.7 293.8h0.6M257.2 243.8h0.6M261.1 205.6h0.6M253.5 210.7h0.6M258.2 290.0h0.6M254.3 274.5h0.6M257.1 303.6h0.6M253.7 221.9h0.6M254.2 256.0h0.6M252.0 195.3h0.6M256.6 219.9h0.6M256.0 245.8h0.6M256.2 233.6h0.6M257.0 211.0h0.6M256.2 212.5h0.6M255.5 219.2h0.6M258.8 292.3h0.6M256.4 255.0h0.6M250.9 205.6h0.6M255.0 280.6h0.6M251.2 250.0h0.6M252.4 269.8h0.6M255.0 283.5h0.6M258.6 305.4h0.6M253.6 290.7h0.6M255.5 206.0h0.6M251.7 219.4h0.6M256.1 236.6h0.6M259.7 255.8h0.6M261.7 296.2h0.6M253.5 256.0h0.6M255.8 266.3h0.6M253.0 194.2h0.6M256.6 241.5h0.6M251.8 241.6h0.6M251.8 274.0h0.6M260.6 243.2h0.6M259.8 303.0h0.6M251.6 225.5h0.6M260.2 225.6h0.6M259.3 218.2h0.6M251.1 220.9h0.6M255.9 304.3h0.6M259.2 200.8h0.6M250.8 265.8h0.6M260.8 187.5h0.6M260.6 200.4h0.6M256.0 216.2h0.6M256.0 311.1h0.6M251.6 226.5h0.6M251.4 242.3h0.6M257.8 285.0h0.6M252.8 213.3h0.6M256.5 260.6h0.6M259.4 303.7h0.6M252.6 195.4h0.6M255.9 306.4h0.6M256.6 302.4h0.6M256.0 266.9h0.6M252.2 278.9h0.6M251.8 247.1h0.6M255.3 293.0h0.6M260.5 258.7h0.6M257.7 294.0h0.6M251.4 233.3h0.6M258.1 192.7h0.6M260.3 246.3h0.6M252.7 285.9h0.6M258.9 219.1h0.6M254.8 282.5h0.6M257.4 254.4h0.6M257.8 260.0h0.6M256.7 258.7h0.6M253.8 227.7h0.6M257.6 200.2h0.6M254.2 207.2h0.6M255.4 252.5h0.6M255.0 279.1h0.6M270.0 193.4h0.6M268.1 202.2h0.6M266.4 200.0h0.6M268.2 183.8h0.6M264.0 212.0h0.6M266.3 192.5h0.6M268.4 169.0h0.6M263.3 211.0h0.6M271.5 209.7h0.6M269.2 206.5h0.6M263.6 173.2h0.6M268.3 198.2h0.6M270.1 166.9h0.6M262.4 202.7h0.6M271.2 183.7h0.6M271.7 169.4h0.6M263.7 199.3h0.6M262.2 167.6h0.6M271.4 189.1h0.6M267.4 169.6h0.6M264.8 182.9h0.6M269.7 185.8h0.6M261.9 202.8h0.6M264.6 196.6h0.6M262.2 170.9h0.6M264.3 213.9h0.6M262.9 183.9h0.6M265.8 171.6h0.6M266.7 199.7h0.6M261.9 208.5h0.6M286.9 171.4h0.6M284.3 188.7h0.6M281.8 193.5h0.6M283.9 156.4h0.6M280.3 182.2h0.6M279.0 174.7h0.6M288.5 173.7h0.6M277.2 167.4h0.6M273.4 172.8h0.6M277.4 157.3h0.6M282.0 194.6h0.6M285.4 158.3h0.6M288.7 181.3h0.6M290.5 196.3h0.6M279.5 189.8h0.6M281.8 167.4h0.6M281.8 150.7h0.6M270.5 158.5h0.6M277.6 157.8h0.6M284.7 156.6h0.6M289.4 157.8h0.6M288.2 163.7h0.6M294.2 166.5h0.6M285.9 168.4h0.6M264.6 169.6h0.6M269.3 170.3h0.6M265.7 175.5h0.6M270.5 176.7h0.6M284.7 179.8h0.6M290.6 183.8h0.6M263.4 183.8h0.6M268.1 185.0h0.6M257.5 189.7h0.6M262.2 190.9h0.6M268.1 190.9h0.6M265.7 195.6h0.6M291.8 196.8h0.6M223.1 183.3h0.6M227.9 208.7h0.6M237.3 203.5h0.6M242.1 203.9h0.6M245.6 204.4h0.6M186.7 251.5h0.6M175.5 258.3h0.6M239.7 212.0h0.6M245.7 210.0h0.6M309.5 205.8h0.6M304.8 207.5h0.6M288.2 203.9h0.6M283.5 208.7h0.6M258.6 207.5h0.6M263.4 211.0h0.6M304.8 224.1h0.6M249.2 221.7h0.6M270.5 222.9h0.6M276.4 221.7h0.6M282.3 215.8h0.6M287.0 221.7h0.6M261.2 231.6h0.6M266.5 233.0h0.6M261.2 237.0h0.6M267.7 241.0h0.6M261.2 251.6h0.6M263.7 257.0h0.6M282.5 243.6h0.6M287.7 246.3h0.6M291.7 249.0h0.6M285.1 250.3h0.6M279.7 253.0h0.6M282.5 257.0h0.6M274.5 261.0h0.6M269.2 262.0h0.6M301.1 273.8h0.6M275.0 277.3h0.6M275.0 261.5h0.6M279.7 258.7h0.6M261.2 267.5h0.6M262.5 273.0h0.6" stroke="#fcc4ae" stroke-width="6.3" stroke-linecap="round" fill="none"/>
<path d="M291.2 298.4h0.6M274.8 310.3h0.6M261.9 308.4h0.6M263.3 311.4h0.6M275.9 294.6h0.6M265.5 306.0h0.6M275.2 302.9h0.6M292.0 297.7h0.6M262.3 299.0h0.6M251.5 310.4h0.6M283.8 304.5h0.6M286.8 302.2h0.6M291.1 296.2h0.6M303.1 289.2h0.6M282.9 286.3h0.6M272.4 302.6h0.6M266.6 293.3h0.6M296.5 301.9h0.6M258.4 290.7h0.6M298.1 307.4h0.6M291.7 293.5h0.6M294.1 297.5h0.6M255.1 299.5h0.6M289.9 298.9h0.6M294.5 297.3h0.6M254.0 297.9h0.6M261.4 307.9h0.6M289.8 300.0h0.6M281.2 308.0h0.6M272.0 297.3h0.6M296.6 301.0h0.6M251.8 289.1h0.6M271.6 282.1h0.6M304.3 297.9h0.6M268.4 287.8h0.6M254.3 292.0h0.6M251.4 306.8h0.6M282.6 301.6h0.6M296.7 290.6h0.6M252.4 288.8h0.6M307.6 297.2h0.6M289.6 292.4h0.6M280.4 291.9h0.6M266.7 285.2h0.6M255.2 300.5h0.6M265.5 294.8h0.6M265.7 310.4h0.6M269.2 291.1h0.6M251.3 284.9h0.6M253.0 282.7h0.6M302.2 294.7h0.6M256.4 300.2h0.6M277.3 297.6h0.6M270.5 306.8h0.6M277.3 297.4h0.6M287.7 296.4h0.6M282.9 295.1h0.6M282.4 293.2h0.6M254.2 296.9h0.6M289.8 306.7h0.6M277.2 285.4h0.6M260.0 301.6h0.6M284.3 300.8h0.6M252.2 285.4h0.6M282.6 307.8h0.6M294.8 304.1h0.6M266.6 303.6h0.6M288.9 292.9h0.6M264.8 289.1h0.6M295.0 299.0h0.6M295.9 305.5h0.6M262.9 291.8h0.6M259.3 289.2h0.6M293.3 298.4h0.6M302.1 295.5h0.6M267.0 285.3h0.6M257.0 281.6h0.6M303.5 303.8h0.6M297.6 296.2h0.6M255.8 308.6h0.6M282.3 287.3h0.6M274.7 295.8h0.6M280.9 302.4h0.6M269.5 282.7h0.6M283.4 307.6h0.6M300.6 288.7h0.6M284.8 294.4h0.6M265.4 297.8h0.6M270.7 299.2h0.6M283.5 294.5h0.6M294.0 307.0h0.6M276.8 300.2h0.6M285.3 290.4h0.6M257.5 301.4h0.6M298.2 297.1h0.6M270.4 309.7h0.6M261.2 297.0h0.6M250.7 278.6h0.6M250.9 309.1h0.6M291.2 295.2h0.6M282.1 303.3h0.6M278.8 292.6h0.6M258.4 285.0h0.6M295.8 306.3h0.6M280.9 310.3h0.6M259.0 280.0h0.6M265.7 302.3h0.6M272.7 288.2h0.6M282.3 296.6h0.6M260.1 287.0h0.6M265.4 299.1h0.6M262.3 298.7h0.6M270.5 298.2h0.6M263.2 304.7h0.6M253.3 295.9h0.6M265.0 293.9h0.6M273.2 290.3h0.6M256.3 296.9h0.6M253.6 301.1h0.6M251.8 300.3h0.6M274.1 272.7h0.6M282.5 275.5h0.6M288.1 277.3h0.6M290.7 279.0h0.6M309.5 299.7h0.6M304.7 308.0h0.6M301.1 288.5h0.6M263.9 310.8h0.6M267.7 314.5h0.6M265.7 318.0h0.6M261.7 313.0h0.6M269.7 312.0h0.6M245.3 265.2h0.6M250.9 264.3h0.6M258.3 263.4h0.6M262.0 267.0h0.6M260.2 272.7h0.6M247.1 277.3h0.6M243.4 292.2h0.6M245.3 286.6h0.6M218.7 303.5h0.6M221.3 304.8h0.6M237.3 306.0h0.6M227.7 302.0h0.6M232.7 304.0h0.6" stroke="#87c5e0" stroke-width="6.3" stroke-linecap="round" fill="none"/>
<path d="M196.4 81.0h0.6M210.8 130.0h0.6M221.8 90.5h0.6M194.8 82.9h0.6M226.0 65.3h0.6M144.7 137.8h0.6M218.0 126.5h0.6M222.7 87.5h0.6M84.7 118.4h0.6M208.9 125.6h0.6M70.1 163.8h0.6M219.3 75.7h0.6M161.2 144.7h0.6M198.7 117.7h0.6M201.7 130.0h0.6M188.7 125.7h0.6M182.6 96.4h0.6M161.9 111.6h0.6M171.9 122.8h0.6M172.3 122.8h0.6M132.9 152.7h0.6M140.5 156.3h0.6M213.6 114.8h0.6M182.6 149.4h0.6M139.5 124.0h0.6M161.9 107.4h0.6M288.3 70.3h0.6M226.9 94.4h0.6M182.2 76.2h0.6M87.7 135.6h0.6M146.1 107.6h0.6M164.7 143.3h0.6M179.1 125.7h0.6M277.6 64.3h0.6M84.5 120.7h0.6M136.6 92.6h0.6M71.0 136.4h0.6M105.1 104.5h0.6M106.7 101.1h0.6M260.5 61.9h0.6M167.6 119.3h0.6M110.5 114.9h0.6M207.2 88.2h0.6M183.7 100.1h0.6M159.8 125.2h0.6M127.6 120.4h0.6M186.8 108.7h0.6M149.1 108.3h0.6M197.1 138.5h0.6M153.3 109.9h0.6M214.7 90.2h0.6M161.0 140.0h0.6M173.1 114.2h0.6M101.5 119.2h0.6M103.6 155.2h0.6M283.9 86.0h0.6M113.4 172.4h0.6M191.7 90.1h0.6M191.7 87.0h0.6M265.8 76.7h0.6M104.8 131.4h0.6M213.7 112.9h0.6M248.8 80.2h0.6M109.5 159.7h0.6M98.5 166.7h0.6M204.3 124.0h0.6M292.2 73.7h0.6M78.4 115.6h0.6M84.9 172.4h0.6M172.7 135.9h0.6M152.2 99.6h0.6M226.5 119.3h0.6M253.5 82.0h0.6M237.3 102.7h0.6M232.0 87.1h0.6M138.8 86.0h0.6M84.4 110.3h0.6M80.6 158.0h0.6M305.4 76.5h0.6M190.7 109.4h0.6M242.7 87.7h0.6M219.1 91.2h0.6M164.6 108.4h0.6M146.0 92.2h0.6M201.5 115.7h0.6M293.8 75.0h0.6M181.5 132.1h0.6M112.7 166.2h0.6M106.3 123.6h0.6M114.1 122.5h0.6M156.0 121.5h0.6M157.2 124.0h0.6M122.9 128.8h0.6M242.4 95.8h0.6M106.9 132.8h0.6M121.6 141.5h0.6M199.1 141.0h0.6M164.0 107.8h0.6M87.9 179.2h0.6M103.8 116.6h0.6M127.2 111.7h0.6M147.2 125.4h0.6M284.4 77.7h0.6M52.9 145.5h0.6M185.9 86.2h0.6M204.3 115.0h0.6M160.1 119.2h0.6M214.4 94.4h0.6M176.5 117.4h0.6M129.2 115.9h0.6M173.5 99.0h0.6M254.9 73.7h0.6M152.5 123.2h0.6M147.3 152.6h0.6M119.4 123.9h0.6M177.2 132.0h0.6M116.9 134.2h0.6M226.0 113.8h0.6M73.1 155.7h0.6M117.5 121.1h0.6M126.0 98.3h0.6M184.0 100.5h0.6M246.4 85.9h0.6M259.0 90.7h0.6M224.9 108.7h0.6M63.0 157.7h0.6M206.9 127.0h0.6M79.8 134.9h0.6M121.6 130.1h0.6M268.3 82.6h0.6M178.5 129.0h0.6M194.9 84.6h0.6M219.7 122.9h0.6M126.6 107.6h0.6M229.9 107.2h0.6M135.0 98.6h0.6M170.3 111.9h0.6M217.7 93.5h0.6M92.8 123.0h0.6M266.6 64.8h0.6M185.7 103.3h0.6M207.8 108.7h0.6M93.1 109.5h0.6M211.9 112.1h0.6M77.2 147.9h0.6M277.6 83.4h0.6M159.1 116.6h0.6M145.1 149.0h0.6M125.3 159.7h0.6M286.8 86.9h0.6M141.6 161.2h0.6M202.8 115.1h0.6M129.1 148.5h0.6M268.0 72.5h0.6M193.5 143.2h0.6M206.2 124.6h0.6M104.6 119.6h0.6M135.4 159.9h0.6M118.6 166.0h0.6M119.7 165.2h0.6M265.6 83.1h0.6M206.7 102.2h0.6M216.9 105.2h0.6M157.1 114.0h0.6M115.3 92.7h0.6M222.0 67.6h0.6M247.2 69.4h0.6M266.8 84.3h0.6M236.8 88.9h0.6M259.1 75.3h0.6M125.8 134.2h0.6M84.7 175.9h0.6M117.0 88.5h0.6M132.2 129.7h0.6M276.5 79.7h0.6M254.4 68.5h0.6M116.6 146.5h0.6M291.8 79.0h0.6M112.7 164.7h0.6M198.4 98.1h0.6M111.5 102.5h0.6M156.8 144.3h0.6M241.6 67.4h0.6M292.9 71.1h0.6M202.7 78.7h0.6M144.1 117.3h0.6M266.2 67.1h0.6M201.8 125.1h0.6M143.9 116.1h0.6M199.6 68.9h0.6M74.2 151.3h0.6M268.3 72.7h0.6M264.3 63.7h0.6M179.5 116.8h0.6M127.8 164.5h0.6M176.2 126.5h0.6M180.0 77.9h0.6M306.8 80.2h0.6M190.9 136.4h0.6M141.9 96.4h0.6M151.4 138.5h0.6M270.9 62.4h0.6M109.1 180.2h0.6M171.6 135.9h0.6M173.6 118.3h0.6M233.6 82.3h0.6M262.4 77.1h0.6M154.7 117.3h0.6M167.6 89.6h0.6M188.5 81.3h0.6M146.7 119.2h0.6M238.3 88.7h0.6M183.3 136.6h0.6M272.6 87.5h0.6M198.8 111.4h0.6M69.9 157.2h0.6M94.0 134.7h0.6M309.1 74.6h0.6M241.8 80.2h0.6M220.0 74.8h0.6M231.3 98.2h0.6M62.8 147.5h0.6M190.9 83.8h0.6M84.8 171.0h0.6M167.6 117.7h0.6M297.9 66.3h0.6M126.7 156.7h0.6M143.3 131.4h0.6M146.6 150.3h0.6M119.8 139.4h0.6M218.8 130.0h0.6M204.1 108.7h0.6M233.4 85.6h0.6M234.3 83.0h0.6M180.6 102.2h0.6M194.9 143.9h0.6M120.9 165.5h0.6M160.0 104.3h0.6M108.9 132.7h0.6M201.6 62.9h0.6M80.2 141.6h0.6M179.6 81.9h0.6M183.4 140.4h0.6M284.7 64.1h0.6M185.4 80.7h0.6M191.7 100.7h0.6M139.6 130.8h0.6M204.5 102.5h0.6M218.1 97.3h0.6M225.8 108.5h0.6M123.0 84.9h0.6M198.7 123.7h0.6M213.9 97.1h0.6M133.0 164.3h0.6M141.2 127.1h0.6M172.6 131.9h0.6M266.0 81.0h0.6M210.8 73.9h0.6M103.5 146.4h0.6M74.1 164.1h0.6M184.1 135.2h0.6M260.6 70.2h0.6M85.7 169.8h0.6M295.3 72.4h0.6M156.5 143.5h0.6M118.2 114.7h0.6M131.8 134.4h0.6M153.7 113.6h0.6M126.2 141.3h0.6M182.9 78.2h0.6M199.2 75.4h0.6M196.1 116.5h0.6M102.8 156.6h0.6M161.4 96.3h0.6M91.6 100.4h0.6M198.1 106.2h0.6M241.6 76.7h0.6M109.8 117.6h0.6M292.0 71.0h0.6M106.4 163.3h0.6M96.3 108.7h0.6M215.4 123.9h0.6M117.7 115.8h0.6M185.0 121.3h0.6M116.7 160.0h0.6M220.9 86.2h0.6M133.9 135.3h0.6M234.4 106.4h0.6M172.7 100.5h0.6M127.0 110.8h0.6M158.4 123.4h0.6M274.7 70.4h0.6M280.7 76.5h0.6M116.6 89.2h0.6M155.0 115.1h0.6M197.8 109.7h0.6M111.1 144.3h0.6M304.2 67.3h0.6M178.0 103.2h0.6M108.7 178.8h0.6M234.5 94.7h0.6M216.6 134.2h0.6M169.0 94.5h0.6M78.4 153.4h0.6M126.2 114.9h0.6M210.4 94.1h0.6M160.5 98.1h0.6M194.8 140.2h0.6M221.5 80.5h0.6M238.6 87.9h0.6M145.4 118.7h0.6M94.4 149.8h0.6M191.6 94.0h0.6M186.3 84.4h0.6M134.3 105.3h0.6M57.8 120.5h0.6M125.9 124.8h0.6M195.7 127.9h0.6M110.7 100.7h0.6M195.4 115.8h0.6M185.1 85.2h0.6M260.7 92.0h0.6M136.6 113.3h0.6M148.5 112.1h0.6M207.7 110.7h0.6M93.3 120.6h0.6M129.8 110.1h0.6M78.5 132.3h0.6M209.2 100.1h0.6M141.5 88.2h0.6M144.8 160.2h0.6M136.6 122.3h0.6M221.6 102.1h0.6M192.5 117.3h0.6M139.0 135.1h0.6M136.9 163.6h0.6M144.8 158.5h0.6M107.5 94.7h0.6M136.4 124.8h0.6M141.5 133.7h0.6M178.3 122.4h0.6M239.6 75.2h0.6M203.5 130.9h0.6M122.2 139.4h0.6M180.5 99.5h0.6M199.5 121.4h0.6M232.5 82.3h0.6M199.9 111.4h0.6M84.7 167.8h0.6M117.0 95.6h0.6M191.5 108.8h0.6M189.5 95.1h0.6M220.9 95.6h0.6M291.7 80.3h0.6M288.7 67.0h0.6M217.9 81.6h0.6M225.5 84.7h0.6M136.5 98.0h0.6M124.2 137.9h0.6M147.8 112.3h0.6M206.3 128.2h0.6M190.3 133.9h0.6M201.8 122.8h0.6M83.7 168.1h0.6M139.6 116.7h0.6M222.0 102.4h0.6M178.7 119.1h0.6M275.9 69.1h0.6M218.1 106.8h0.6M147.0 132.7h0.6M133.9 157.7h0.6M264.8 65.0h0.6M123.3 145.2h0.6M288.4 68.6h0.6M263.4 82.7h0.6M256.9 74.9h0.6M192.0 118.8h0.6M261.1 80.8h0.6M213.2 106.5h0.6M111.1 144.3h0.6M228.1 74.8h0.6M78.8 134.1h0.6M128.0 160.3h0.6M274.7 66.1h0.6M241.9 71.1h0.6M190.5 89.4h0.6M170.8 114.6h0.6M136.2 157.8h0.6M130.1 139.8h0.6M137.2 97.6h0.6M267.5 68.7h0.6M188.9 80.6h0.6M194.8 109.2h0.6M148.7 145.0h0.6M152.7 114.6h0.6M143.2 106.3h0.6M279.4 75.1h0.6M88.1 122.8h0.6M164.4 133.8h0.6M147.2 144.4h0.6M294.3 81.8h0.6M243.6 74.5h0.6M133.8 131.5h0.6M204.3 100.0h0.6M188.7 108.7h0.6M110.5 167.7h0.6M192.7 127.0h0.6M161.2 126.0h0.6M277.0 67.4h0.6M168.0 103.8h0.6M210.9 127.3h0.6M197.0 140.7h0.6M98.4 160.5h0.6M143.4 100.4h0.6M218.6 107.2h0.6M63.0 137.8h0.6M136.8 143.5h0.6M213.0 103.2h0.6M289.3 91.8h0.6M215.0 87.9h0.6M112.1 170.4h0.6M159.0 113.5h0.6M122.3 125.3h0.6M189.6 103.6h0.6M230.4 87.9h0.6M55.2 124.3h0.6M55.8 120.3h0.6M265.1 74.3h0.6M159.4 151.8h0.6M229.9 88.8h0.6M223.2 79.9h0.6M242.7 84.8h0.6M161.7 124.1h0.6M244.0 69.3h0.6M116.0 178.2h0.6M291.3 80.7h0.6M96.6 138.8h0.6M114.6 112.2h0.6M135.6 140.6h0.6M140.5 153.9h0.6M232.8 68.5h0.6M208.7 87.2h0.6M186.1 92.5h0.6M222.3 74.2h0.6M179.2 79.8h0.6M119.9 130.6h0.6M119.5 122.7h0.6M149.8 108.8h0.6M237.1 63.5h0.6M202.0 109.6h0.6M249.2 68.4h0.6M179.7 92.6h0.6M127.0 117.3h0.6M255.1 85.2h0.6M274.0 71.0h0.6M127.1 160.7h0.6M126.6 156.5h0.6M155.0 124.5h0.6M196.3 111.9h0.6M124.9 138.3h0.6M289.5 63.4h0.6M222.1 77.4h0.6M204.7 72.3h0.6M209.4 64.1h0.6M135.0 116.3h0.6M114.3 131.0h0.6M196.5 93.6h0.6M168.3 107.4h0.6M234.5 103.2h0.6M195.3 98.5h0.6M91.8 105.8h0.6M161.0 103.3h0.6M201.3 119.5h0.6M132.4 114.3h0.6M113.7 113.4h0.6M183.1 75.1h0.6M254.8 90.3h0.6M206.4 134.0h0.6M166.0 125.2h0.6M156.2 91.3h0.6M89.0 146.5h0.6M197.9 82.5h0.6M121.1 123.2h0.6M155.4 104.9h0.6M113.0 125.5h0.6M241.6 75.6h0.6M104.9 178.7h0.6M165.9 117.9h0.6M215.6 71.3h0.6M91.6 164.4h0.6M194.7 80.8h0.6M114.6 167.5h0.6M202.9 75.4h0.6M135.0 115.4h0.6M144.7 92.3h0.6M187.7 106.7h0.6M173.9 121.4h0.6M111.1 121.2h0.6M240.2 84.2h0.6M133.5 144.5h0.6M163.6 153.3h0.6M253.1 90.8h0.6M190.2 113.2h0.6M301.9 69.8h0.6M169.3 96.7h0.6M222.1 84.6h0.6M221.2 107.6h0.6M151.9 121.1h0.6M129.9 139.5h0.6M189.4 121.9h0.6M119.0 128.9h0.6M107.8 100.7h0.6M217.1 74.3h0.6M165.4 121.2h0.6M148.5 149.2h0.6M215.4 102.4h0.6M133.4 138.0h0.6M176.3 150.7h0.6M295.6 79.6h0.6M283.2 80.9h0.6M175.6 90.9h0.6M229.8 96.6h0.6M234.7 65.9h0.6M108.0 147.4h0.6M250.9 91.8h0.6M108.7 129.1h0.6M200.8 95.5h0.6M120.4 115.8h0.6M201.3 137.6h0.6M157.8 122.2h0.6M257.3 73.1h0.6M179.9 141.0h0.6M228.6 102.4h0.6M148.7 106.0h0.6M87.4 167.2h0.6M233.1 74.4h0.6M207.8 76.4h0.6M153.4 104.6h0.6M187.0 116.5h0.6M98.0 155.4h0.6M259.7 93.3h0.6M141.5 122.8h0.6M191.0 93.9h0.6M54.7 125.2h0.6M176.4 120.7h0.6M184.2 85.7h0.6M117.0 174.7h0.6M121.4 168.8h0.6M114.0 154.6h0.6M208.4 124.2h0.6M136.5 115.0h0.6M116.9 172.0h0.6M150.2 119.8h0.6M201.9 144.1h0.6M106.3 104.5h0.6M203.3 70.8h0.6M127.7 94.2h0.6M292.2 77.5h0.6M180.2 112.0h0.6M80.0 135.8h0.6M193.4 74.2h0.6M193.7 83.6h0.6M201.4 123.4h0.6M196.0 98.9h0.6M76.6 173.5h0.6M96.5 156.9h0.6M289.9 66.6h0.6M135.9 93.6h0.6M171.5 100.8h0.6M160.4 119.1h0.6M275.0 77.3h0.6M217.1 103.1h0.6M185.3 120.3h0.6M120.4 113.4h0.6M293.1 73.1h0.6M128.5 129.7h0.6M168.3 135.4h0.6M186.1 80.4h0.6M264.4 68.5h0.6M136.6 132.5h0.6M211.6 94.9h0.6M239.7 68.8h0.6M210.7 64.0h0.6M145.2 118.4h0.6M181.0 81.7h0.6M110.6 151.6h0.6M119.2 155.0h0.6M216.1 88.2h0.6M212.3 123.8h0.6M239.4 67.4h0.6M118.0 129.4h0.6M253.0 69.8h0.6M180.2 96.2h0.6M225.0 107.7h0.6M161.1 98.1h0.6M149.7 121.5h0.6M180.8 147.0h0.6M182.7 145.2h0.6M258.3 78.1h0.6M143.3 98.6h0.6M176.5 93.6h0.6M131.6 147.8h0.6M181.0 132.3h0.6M245.4 77.4h0.6M193.6 74.0h0.6M149.6 107.8h0.6M139.2 105.1h0.6M204.6 137.7h0.6M197.3 125.0h0.6M48.8 175.7h0.6M242.5 100.0h0.6M239.2 72.4h0.6M193.2 74.0h0.6M148.9 108.5h0.6M239.1 75.3h0.6M149.3 120.9h0.6M202.9 107.3h0.6M162.8 93.9h0.6M176.6 98.7h0.6M122.5 174.5h0.6M142.3 134.4h0.6M281.7 83.4h0.6M143.6 126.9h0.6M173.6 90.6h0.6M268.5 67.2h0.6M131.3 122.0h0.6M227.9 114.2h0.6M213.7 102.8h0.6M275.0 70.1h0.6M73.1 118.4h0.6M184.7 138.4h0.6M123.8 123.3h0.6M109.1 99.6h0.6M152.4 150.6h0.6M106.2 98.5h0.6M235.9 76.6h0.6M143.8 90.2h0.6M85.5 131.5h0.6M142.6 111.6h0.6M117.6 110.1h0.6M158.4 150.9h0.6M244.5 98.4h0.6M58.5 153.9h0.6M218.5 99.7h0.6M205.7 103.0h0.6M194.0 109.2h0.6M237.1 86.0h0.6M197.3 74.4h0.6M277.1 82.0h0.6M82.8 181.9h0.6M114.8 107.7h0.6M284.3 83.3h0.6M193.1 95.1h0.6M302.9 76.9h0.6M188.4 79.3h0.6M150.0 102.4h0.6M195.3 135.3h0.6M173.7 115.9h0.6M173.5 147.8h0.6M251.4 95.9h0.6M91.1 105.5h0.6M95.9 157.6h0.6M189.9 87.2h0.6M253.0 80.3h0.6M145.7 155.9h0.6M228.7 94.7h0.6M223.3 81.6h0.6M227.1 102.9h0.6M133.5 165.1h0.6M124.8 99.3h0.6M110.7 145.0h0.6M120.9 153.0h0.6M237.0 70.6h0.6M121.0 97.5h0.6M148.9 144.6h0.6M125.0 137.0h0.6M157.6 153.1h0.6M249.6 67.4h0.6M213.9 96.0h0.6M108.9 149.8h0.6M268.5 65.9h0.6M121.1 169.8h0.6M284.8 73.8h0.6M200.5 103.5h0.6M149.7 106.9h0.6M209.5 78.1h0.6M176.3 132.7h0.6M303.7 69.0h0.6M80.9 143.5h0.6M210.8 100.8h0.6M148.2 127.2h0.6M144.9 92.3h0.6M197.3 76.5h0.6M93.2 157.7h0.6M54.9 185.0h0.6M175.5 130.5h0.6M192.1 101.2h0.6M234.5 90.0h0.6M175.2 137.3h0.6M286.4 81.3h0.6M142.3 97.1h0.6M149.1 109.2h0.6M155.3 133.6h0.6M52.6 142.4h0.6M55.0 161.3h0.6M152.3 105.9h0.6M52.1 154.3h0.6M85.8 104.4h0.6M119.2 93.4h0.6M104.2 133.4h0.6M268.0 71.0h0.6M199.1 139.0h0.6M147.0 119.9h0.6M167.1 127.9h0.6M241.9 89.9h0.6M139.0 126.5h0.6M68.9 130.6h0.6M59.3 177.3h0.6M226.7 93.8h0.6M270.2 62.7h0.6M303.3 75.2h0.6M173.1 142.3h0.6M124.1 115.2h0.6M212.4 115.7h0.6M193.8 117.1h0.6M168.5 117.9h0.6M267.1 72.6h0.6M99.7 131.3h0.6M180.1 134.2h0.6M114.6 127.2h0.6M108.3 120.8h0.6M107.0 111.5h0.6M98.0 149.1h0.6M171.6 133.0h0.6M198.3 81.1h0.6M183.1 91.5h0.6M276.0 77.8h0.6M155.4 120.2h0.6M176.3 124.8h0.6M193.1 82.1h0.6M145.4 98.4h0.6M110.4 129.3h0.6M191.6 76.4h0.6M108.4 100.3h0.6M195.3 84.2h0.6M169.8 114.3h0.6M151.1 136.9h0.6M210.0 76.5h0.6M233.3 107.5h0.6M110.1 129.5h0.6M267.3 74.2h0.6M202.5 102.0h0.6M105.0 110.8h0.6M241.3 100.0h0.6M272.5 85.0h0.6M162.5 86.6h0.6M122.0 125.9h0.6M141.4 116.7h0.6M86.4 145.8h0.6M235.5 81.0h0.6M134.3 134.2h0.6M87.3 173.8h0.6M76.5 152.0h0.6M229.0 73.6h0.6M224.4 110.5h0.6M183.4 77.5h0.6M285.9 75.5h0.6M168.7 136.9h0.6M217.5 125.7h0.6M178.4 110.4h0.6M234.2 80.1h0.6M226.7 75.6h0.6M273.1 79.1h0.6M54.9 156.6h0.6M274.4 68.1h0.6M279.2 71.8h0.6M130.4 101.2h0.6M235.6 83.7h0.6M207.5 90.3h0.6M282.9 76.7h0.6M307.5 77.2h0.6M167.4 134.6h0.6M222.5 104.6h0.6M203.7 117.3h0.6M292.1 66.5h0.6M131.5 147.7h0.6M142.6 158.6h0.6M108.0 96.8h0.6M209.9 83.2h0.6M117.3 108.9h0.6M169.4 111.6h0.6M153.7 133.3h0.6M178.6 89.2h0.6M191.8 142.2h0.6M163.2 95.1h0.6M111.4 176.1h0.6M141.5 99.1h0.6M245.0 96.6h0.6M202.9 78.1h0.6M154.1 113.8h0.6M106.5 171.2h0.6M157.3 85.9h0.6M191.7 84.4h0.6M249.2 92.3h0.6M187.6 113.1h0.6M229.4 81.9h0.6M162.8 127.1h0.6M128.0 152.5h0.6M138.7 129.2h0.6M119.6 122.6h0.6M56.4 169.5h0.6M173.1 122.7h0.6M61.0 144.9h0.6M187.1 134.1h0.6M129.7 103.2h0.6M127.8 132.6h0.6M182.6 90.7h0.6M128.3 115.0h0.6M237.3 103.7h0.6M208.5 118.2h0.6M132.7 147.0h0.6M154.0 102.0h0.6M186.0 141.2h0.6M112.2 150.0h0.6M186.2 76.7h0.6M274.3 75.4h0.6M146.1 142.1h0.6M197.6 126.9h0.6M206.6 102.1h0.6M186.3 102.9h0.6M187.3 106.3h0.6M83.3 131.3h0.6M170.2 101.1h0.6M180.7 125.4h0.6M112.8 140.7h0.6M116.1 136.9h0.6M285.8 78.5h0.6M106.9 154.3h0.6M182.4 115.0h0.6M95.2 136.0h0.6M140.2 127.4h0.6M150.9 136.5h0.6M234.5 81.6h0.6M128.6 148.1h0.6M148.7 157.3h0.6M248.4 83.2h0.6M187.4 141.9h0.6M229.7 116.8h0.6M239.0 73.4h0.6M171.2 124.1h0.6M207.8 134.1h0.6M127.0 127.1h0.6M123.7 155.7h0.6M188.1 83.2h0.6M243.5 88.6h0.6M133.7 105.6h0.6M297.4 66.7h0.6M124.3 127.2h0.6M288.8 65.8h0.6M189.1 117.6h0.6M216.3 125.8h0.6M105.3 143.6h0.6M184.2 118.3h0.6M152.4 151.2h0.6M120.4 168.4h0.6M198.9 70.5h0.6M214.6 94.8h0.6M173.9 148.9h0.6M240.6 82.8h0.6M163.6 120.7h0.6M48.3 152.2h0.6M229.9 81.6h0.6M179.1 106.0h0.6M149.1 151.1h0.6M145.8 133.8h0.6M133.0 128.8h0.6M240.6 85.6h0.6M212.7 105.8h0.6M66.6 118.2h0.6M109.9 106.7h0.6M89.7 129.2h0.6M271.8 88.8h0.6M228.9 94.3h0.6M107.0 133.9h0.6M178.1 106.9h0.6M111.7 132.5h0.6M118.5 99.7h0.6M121.7 124.3h0.6M193.5 81.4h0.6M119.7 114.3h0.6M133.0 121.7h0.6M121.8 130.9h0.6M291.4 82.5h0.6M115.4 128.1h0.6M90.2 158.0h0.6M269.6 65.9h0.6M55.3 155.8h0.6M158.7 107.2h0.6M71.6 185.8h0.6M262.2 80.2h0.6M263.2 85.4h0.6M281.4 78.7h0.6M67.7 147.9h0.6M114.4 109.8h0.6M94.3 169.9h0.6M151.0 87.0h0.6M135.1 131.5h0.6M188.9 85.1h0.6M238.9 73.2h0.6M198.5 69.3h0.6M251.8 80.4h0.6M185.2 81.0h0.6M198.8 121.6h0.6M51.0 164.8h0.6M113.7 108.5h0.6M77.0 167.4h0.6M171.9 100.8h0.6M133.9 98.2h0.6M166.8 111.1h0.6M188.2 114.3h0.6M149.3 114.4h0.6M107.0 106.0h0.6M189.5 91.2h0.6M248.1 66.9h0.6M173.5 125.6h0.6M135.0 126.5h0.6M125.5 128.3h0.6M131.2 129.4h0.6M145.5 110.1h0.6M119.5 132.3h0.6M97.3 144.5h0.6M236.9 66.4h0.6M212.4 97.5h0.6M177.2 132.5h0.6M181.7 133.4h0.6M301.7 74.9h0.6M227.0 106.6h0.6M95.8 176.3h0.6M160.6 154.4h0.6M203.1 133.1h0.6M195.1 103.5h0.6M182.1 117.6h0.6M127.1 145.6h0.6M242.7 92.6h0.6M117.4 166.2h0.6M134.8 162.0h0.6M186.5 104.2h0.6M260.4 72.2h0.6M131.0 99.7h0.6M212.3 95.4h0.6M119.6 115.1h0.6M173.6 141.7h0.6M188.8 145.0h0.6M196.9 69.2h0.6M177.0 103.8h0.6M193.0 78.7h0.6M164.5 94.4h0.6M160.1 109.1h0.6M183.3 102.5h0.6M192.6 118.9h0.6M102.9 130.5h0.6M219.3 109.4h0.6M220.9 63.4h0.6M209.3 133.1h0.6M206.3 93.9h0.6M140.2 138.2h0.6M188.0 104.1h0.6M201.2 110.2h0.6M230.2 112.8h0.6M123.2 116.4h0.6M146.1 121.3h0.6M97.2 121.4h0.6M118.2 115.4h0.6M195.5 118.8h0.6M67.0 154.3h0.6M69.3 132.2h0.6M134.3 137.8h0.6M156.3 131.6h0.6M288.7 75.6h0.6M269.8 80.1h0.6M111.5 130.6h0.6M199.9 77.9h0.6M185.6 127.2h0.6M147.3 97.7h0.6M179.6 76.7h0.6M293.1 74.1h0.6M98.8 141.9h0.6M152.3 112.2h0.6M180.8 97.5h0.6M199.6 136.8h0.6M146.8 100.3h0.6M183.0 112.2h0.6M144.8 114.4h0.6M172.4 131.8h0.6M94.1 110.8h0.6M156.3 154.3h0.6M208.2 113.6h0.6M126.9 127.8h0.6M104.2 159.8h0.6M277.9 77.9h0.6M188.8 137.8h0.6M130.3 140.1h0.6M100.0 157.1h0.6M163.5 105.8h0.6M242.3 68.5h0.6M242.9 92.9h0.6M215.5 103.3h0.6M95.8 145.6h0.6M190.0 118.4h0.6M233.8 80.4h0.6M105.9 132.2h0.6M217.1 80.2h0.6M131.6 138.0h0.6M149.0 118.5h0.6M254.4 63.2h0.6M135.2 146.5h0.6M123.4 113.3h0.6M298.6 67.7h0.6M63.9 163.0h0.6M243.6 100.5h0.6M125.5 107.5h0.6M130.1 137.7h0.6M275.8 78.5h0.6M106.0 138.6h0.6M119.7 91.3h0.6M203.2 130.0h0.6M187.6 132.1h0.6M171.3 124.8h0.6M161.6 126.4h0.6M229.6 96.6h0.6M155.2 132.7h0.6M210.0 120.6h0.6M266.4 67.6h0.6M221.9 69.1h0.6M258.9 86.4h0.6M193.0 143.9h0.6M125.0 86.7h0.6M246.4 81.2h0.6M165.6 117.7h0.6M159.7 140.8h0.6M126.7 105.7h0.6M159.9 133.9h0.6M306.5 73.4h0.6M98.9 97.3h0.6M193.6 102.6h0.6M232.2 100.5h0.6M119.6 148.8h0.6M219.6 105.1h0.6M165.5 118.2h0.6M148.0 106.5h0.6M126.9 129.8h0.6M131.2 100.9h0.6M285.2 79.3h0.6M166.1 123.8h0.6M268.1 67.0h0.6M131.6 116.0h0.6M180.9 122.9h0.6M171.2 119.9h0.6M98.5 162.4h0.6M307.9 77.1h0.6M60.8 171.2h0.6M119.7 165.6h0.6M82.6 170.8h0.6M50.3 176.7h0.6M60.9 161.6h0.6M78.9 158.4h0.6M105.1 181.2h0.6M73.0 181.2h0.6M122.8 174.8h0.6M101.4 169.9h0.6M90.2 182.2h0.6M118.0 166.1h0.6M80.3 161.9h0.6M56.6 184.7h0.6M126.7 172.0h0.6M50.2 158.3h0.6M67.4 177.4h0.6M90.7 181.0h0.6M74.0 177.6h0.6M96.9 184.8h0.6M61.4 167.8h0.6M65.8 161.6h0.6M73.3 180.1h0.6M86.6 167.3h0.6M56.0 163.8h0.6M96.7 163.5h0.6M82.8 164.1h0.6M76.3 163.1h0.6M59.8 181.6h0.6M127.9 160.8h0.6M69.3 171.0h0.6M85.9 182.6h0.6M74.2 168.5h0.6M97.6 186.3h0.6M50.3 165.2h0.6M54.9 183.5h0.6M89.5 181.7h0.6M91.8 177.7h0.6M118.8 160.2h0.6M59.6 187.2h0.6M58.3 166.8h0.6M49.7 188.8h0.6M87.8 169.3h0.6M82.0 178.6h0.6M124.3 170.3h0.6M67.6 176.5h0.6M88.8 176.2h0.6M61.4 164.9h0.6M68.6 168.8h0.6M57.4 158.6h0.6M124.2 76.8h0.6M131.1 78.2h0.6M121.5 80.9h0.6M127.0 83.6h0.6M98.3 89.0h0.6M178.7 74.0h0.6M188.3 68.6h0.6M159.7 80.0h0.6M195.7 62.0h0.6M213.7 58.0h0.6M221.7 55.0h0.6M235.7 57.0h0.6M163.7 168.0h0.6M150.7 176.0h0.6M171.7 157.0h0.6M177.7 162.0h0.6M185.7 160.5h0.6M195.7 163.0h0.6M200.7 168.0h0.6M211.7 164.5h0.6M211.7 169.5h0.6M142.7 167.0h0.6M151.7 168.5h0.6M161.7 170.0h0.6M168.7 159.0h0.6M176.2 162.6h0.6M183.7 161.0h0.6M149.7 163.0h0.6M193.7 164.0h0.6M199.7 158.0h0.6M211.3 164.0h0.6M189.7 157.0h0.6M104.7 78.0h0.6M126.7 74.0h0.6M141.7 67.0h0.6M179.7 66.0h0.6M266.7 46.0h0.6M269.7 50.0h0.6M263.7 50.0h0.6M267.7 55.0h0.6M271.7 55.0h0.6M225.7 130.0h0.6M247.2 106.0h0.6M304.7 63.0h0.6M308.7 79.0h0.6M197.1 163.7h0.6M200.7 168.4h0.6M211.3 168.4h0.6M206.5 154.2h0.6" stroke="#66c46a" stroke-width="6.3" stroke-linecap="round" fill="none"/>
<path d="M61.0 127.5V172.5M58.3 127.5h5.4M58.3 172.5h5.4M81.4 118.0V162.0M78.7 118.0h5.4M78.7 162.0h5.4M107.7 104.9V156.9M105.0 104.9h5.4M105.0 156.9h5.4M130.9 104.9V156.9M128.2 104.9h5.4M128.2 156.9h5.4M155.2 100.5V141.3M152.5 100.5h5.4M152.5 141.3h5.4M180.0 91.3V131.7M177.3 91.3h5.4M177.3 131.7h5.4M203.3 83.9V128.5M200.6 83.9h5.4M200.6 128.5h5.4M228.6 78.7V108.9M225.9 78.7h5.4M225.9 108.9h5.4M255.2 67.1V90.7M252.5 67.1h5.4M252.5 90.7h5.4M277.1 62.7V84.5M274.4 62.7h5.4M274.4 84.5h5.4M297.8 67.0V84.0M295.1 67.0h5.4M295.1 84.0h5.4" stroke="#0a8a14" stroke-width="1.1" fill="none"/>
<polyline points="61.0,150.0 81.4,140.0 107.7,130.9 130.9,130.9 155.2,120.9 180.0,111.5 203.3,106.2 228.6,93.8 255.2,78.9 277.1,73.6 297.8,75.5" stroke="#0a8a14" stroke-width="1.9" fill="none"/>
<path d="M54.3 150.0l6.7 -6.4l6.7 6.4l-6.7 6.4zM74.7 140.0l6.7 -6.4l6.7 6.4l-6.7 6.4zM101.0 130.9l6.7 -6.4l6.7 6.4l-6.7 6.4zM124.2 130.9l6.7 -6.4l6.7 6.4l-6.7 6.4zM148.5 120.9l6.7 -6.4l6.7 6.4l-6.7 6.4zM173.3 111.5l6.7 -6.4l6.7 6.4l-6.7 6.4zM196.6 106.2l6.7 -6.4l6.7 6.4l-6.7 6.4zM221.9 93.8l6.7 -6.4l6.7 6.4l-6.7 6.4zM248.5 78.9l6.7 -6.4l6.7 6.4l-6.7 6.4zM270.4 73.6l6.7 -6.4l6.7 6.4l-6.7 6.4zM291.1 75.5l6.7 -6.4l6.7 6.4l-6.7 6.4z" fill="#0a8a14"/>
<path d="M61.0 134.8V208.8M58.3 134.8h5.4M58.3 208.8h5.4M81.4 156.1V223.9M78.7 156.1h5.4M78.7 223.9h5.4M107.7 169.1V241.9M105.0 169.1h5.4M105.0 241.9h5.4M130.9 168.8V238.8M128.2 168.8h5.4M128.2 238.8h5.4M155.2 190.9V248.7M152.5 190.9h5.4M152.5 248.7h5.4M180.0 204.0V264.0M177.3 204.0h5.4M177.3 264.0h5.4M203.3 211.6V274.0M200.6 211.6h5.4M200.6 274.0h5.4M228.6 238.7V284.9M225.9 238.7h5.4M225.9 284.9h5.4M255.2 269.5V300.5M252.5 269.5h5.4M252.5 300.5h5.4M277.1 284.3V308.3M274.4 284.3h5.4M274.4 308.3h5.4M297.8 286.8V305.8M295.1 286.8h5.4M295.1 305.8h5.4" stroke="#0000ff" stroke-width="1.1" fill="none"/>
<polyline points="61.0,171.8 81.4,190.0 107.7,205.5 130.9,203.8 155.2,219.8 180.0,234.0 203.3,242.8 228.6,261.8 255.2,285.0 277.1,296.3 297.8,296.3" stroke="#0000ff" stroke-width="1.9" fill="none"/>
<path d="M54.3 171.8l6.7 -6.4l6.7 6.4l-6.7 6.4zM74.7 190.0l6.7 -6.4l6.7 6.4l-6.7 6.4zM101.0 205.5l6.7 -6.4l6.7 6.4l-6.7 6.4zM124.2 203.8l6.7 -6.4l6.7 6.4l-6.7 6.4zM148.5 219.8l6.7 -6.4l6.7 6.4l-6.7 6.4zM173.3 234.0l6.7 -6.4l6.7 6.4l-6.7 6.4zM196.6 242.8l6.7 -6.4l6.7 6.4l-6.7 6.4zM221.9 261.8l6.7 -6.4l6.7 6.4l-6.7 6.4zM248.5 285.0l6.7 -6.4l6.7 6.4l-6.7 6.4zM270.4 296.3l6.7 -6.4l6.7 6.4l-6.7 6.4zM291.1 296.3l6.7 -6.4l6.7 6.4l-6.7 6.4z" fill="#0000ff"/>
<path d="M61.0 305.4V317.4M58.3 305.4h5.4M58.3 317.4h5.4M81.4 297.0V314.2M78.7 297.0h5.4M78.7 314.2h5.4M107.7 290.8V308.2M105.0 290.8h5.4M105.0 308.2h5.4M130.9 291.2V305.2M128.2 291.2h5.4M128.2 305.2h5.4M155.2 288.0V302.6M152.5 288.0h5.4M152.5 302.6h5.4M180.0 280.0V300.0M177.3 280.0h5.4M177.3 300.0h5.4M203.3 271.3V296.3M200.6 271.3h5.4M200.6 296.3h5.4M228.6 251.2V291.2M225.9 251.2h5.4M225.9 291.2h5.4M255.2 198.4V269.2M252.5 198.4h5.4M252.5 269.2h5.4M277.1 166.6V232.6M274.4 166.6h5.4M274.4 232.6h5.4M297.8 184.4V242.0M295.1 184.4h5.4M295.1 242.0h5.4" stroke="#ff0000" stroke-width="1.1" fill="none"/>
<polyline points="61.0,311.4 81.4,305.6 107.7,299.5 130.9,298.2 155.2,295.3 180.0,290.0 203.3,283.8 228.6,271.2 255.2,233.8 277.1,199.6 297.8,213.2" stroke="#ff0000" stroke-width="1.9" fill="none"/>
<path d="M54.3 311.4l6.7 -6.4l6.7 6.4l-6.7 6.4zM74.7 305.6l6.7 -6.4l6.7 6.4l-6.7 6.4zM101.0 299.5l6.7 -6.4l6.7 6.4l-6.7 6.4zM124.2 298.2l6.7 -6.4l6.7 6.4l-6.7 6.4zM148.5 295.3l6.7 -6.4l6.7 6.4l-6.7 6.4zM173.3 290.0l6.7 -6.4l6.7 6.4l-6.7 6.4zM196.6 283.8l6.7 -6.4l6.7 6.4l-6.7 6.4zM221.9 271.2l6.7 -6.4l6.7 6.4l-6.7 6.4zM248.5 233.8l6.7 -6.4l6.7 6.4l-6.7 6.4zM270.4 199.6l6.7 -6.4l6.7 6.4l-6.7 6.4zM291.1 213.2l6.7 -6.4l6.7 6.4l-6.7 6.4z" fill="#ff0000"/>
<line x1="250.2" y1="13.1" x2="250.2" y2="321.9" stroke="#111" stroke-width="1.6" stroke-dasharray="6.5 4.3"/>
<path d="M44.9 11.8V321.9M44.9 321.9h5.6M44.9 302.5h3.0M44.9 283.1h5.6M44.9 263.8h3.0M44.9 244.4h5.6M44.9 225.0h3.0M44.9 205.6h5.6M44.9 186.2h3.0M44.9 166.8h5.6M44.9 147.5h3.0M44.9 128.1h5.6M44.9 108.7h3.0M44.9 89.3h5.6M44.9 69.9h3.0M44.9 50.6h5.6M44.9 31.2h3.0M44.9 11.8h5.6" stroke="#0000ff" stroke-width="1.5" fill="none"/>
<path d="M337.4 11.8V321.9M337.4 321.9h-5.6M337.4 306.4h-3.0M337.4 290.9h-3.0M337.4 275.4h-3.0M337.4 259.9h-3.0M337.4 244.4h-5.6M337.4 228.9h-3.0M337.4 213.4h-3.0M337.4 197.9h-3.0M337.4 182.4h-3.0M337.4 166.8h-5.6M337.4 151.3h-3.0M337.4 135.8h-3.0M337.4 120.3h-3.0M337.4 104.8h-3.0M337.4 89.3h-5.6M337.4 73.8h-3.0M337.4 58.3h-3.0M337.4 42.8h-3.0M337.4 27.3h-3.0M337.4 11.8h-5.6" stroke="#ff0000" stroke-width="1.5" fill="none"/>
<path d="M373.3 11.8V321.9M373.3 321.9h-3.0M373.3 290.9h-1.5M373.3 259.9h-3.0M373.3 228.9h-1.5M373.3 197.9h-3.0M373.3 166.8h-1.5M373.3 135.8h-3.0M373.3 104.8h-1.5M373.3 73.8h-3.0M373.3 42.8h-1.5M373.3 11.8h-3.0" stroke="#109c34" stroke-width="1.5" fill="none"/>
<path d="M44.2 11.8H338.1M44.2 321.9H338.1M44.9 321.9v-6.0M44.9 11.8v6.0M54.6 321.9v-3.0M54.6 11.8v3.0M64.4 321.9v-3.0M64.4 11.8v3.0M74.2 321.9v-3.0M74.2 11.8v3.0M83.9 321.9v-3.0M83.9 11.8v3.0M93.7 321.9v-6.0M93.7 11.8v6.0M103.4 321.9v-3.0M103.4 11.8v3.0M113.2 321.9v-3.0M113.2 11.8v3.0M122.9 321.9v-3.0M122.9 11.8v3.0M132.7 321.9v-3.0M132.7 11.8v3.0M142.4 321.9v-6.0M142.4 11.8v6.0M152.2 321.9v-3.0M152.2 11.8v3.0M161.9 321.9v-3.0M161.9 11.8v3.0M171.7 321.9v-3.0M171.7 11.8v3.0M181.4 321.9v-3.0M181.4 11.8v3.0M191.2 321.9v-6.0M191.2 11.8v6.0M200.9 321.9v-3.0M200.9 11.8v3.0M210.7 321.9v-3.0M210.7 11.8v3.0M220.4 321.9v-3.0M220.4 11.8v3.0M230.2 321.9v-3.0M230.2 11.8v3.0M239.9 321.9v-6.0M239.9 11.8v6.0M249.7 321.9v-3.0M249.7 11.8v3.0M259.4 321.9v-3.0M259.4 11.8v3.0M269.1 321.9v-3.0M269.1 11.8v3.0M278.9 321.9v-3.0M278.9 11.8v3.0M288.6 321.9v-6.0M288.6 11.8v6.0M298.4 321.9v-3.0M298.4 11.8v3.0M308.1 321.9v-3.0M308.1 11.8v3.0M317.9 321.9v-3.0M317.9 11.8v3.0M327.6 321.9v-3.0M327.6 11.8v3.0M337.4 321.9v-6.0M337.4 11.8v6.0" stroke="#000" stroke-width="1.6" fill="none"/>
<text transform="translate(41.3,321.6) scale(1.07,1)" font-size="10.4" fill="#0000ff" text-anchor="end">0.0</text>
<text transform="translate(41.3,289.8) scale(1.07,1)" font-size="10.4" fill="#0000ff" text-anchor="end">0.2</text>
<text transform="translate(41.3,251.1) scale(1.07,1)" font-size="10.4" fill="#0000ff" text-anchor="end">0.4</text>
<text transform="translate(41.3,212.3) scale(1.07,1)" font-size="10.4" fill="#0000ff" text-anchor="end">0.6</text>
<text transform="translate(41.3,173.5) scale(1.07,1)" font-size="10.4" fill="#0000ff" text-anchor="end">0.8</text>
<text transform="translate(41.3,134.8) scale(1.07,1)" font-size="10.4" fill="#0000ff" text-anchor="end">1.0</text>
<text transform="translate(41.3,96.0) scale(1.07,1)" font-size="10.4" fill="#0000ff" text-anchor="end">1.2</text>
<text transform="translate(41.3,57.3) scale(1.07,1)" font-size="10.4" fill="#0000ff" text-anchor="end">1.4</text>
<text transform="translate(41.3,22.8) scale(1.07,1)" font-size="10.4" fill="#0000ff" text-anchor="end">1.6</text>
<text transform="translate(340.6,321.6) scale(1.07,1)" font-size="10.4" fill="#ff0000" text-anchor="start">0.0</text>
<text transform="translate(340.6,251.1) scale(1.07,1)" font-size="10.4" fill="#ff0000" text-anchor="start">0.5</text>
<text transform="translate(340.6,173.5) scale(1.07,1)" font-size="10.4" fill="#ff0000" text-anchor="start">1.0</text>
<text transform="translate(340.6,96.0) scale(1.07,1)" font-size="10.4" fill="#ff0000" text-anchor="start">1.5</text>
<text transform="translate(340.6,22.8) scale(1.07,1)" font-size="10.4" fill="#ff0000" text-anchor="start">2.0</text>
<text transform="translate(377.0,321.6) scale(1.07,1)" font-size="10.4" fill="#109c34" text-anchor="start">0.0</text>
<text transform="translate(377.0,266.6) scale(1.07,1)" font-size="10.4" fill="#109c34" text-anchor="start">0.2</text>
<text transform="translate(377.0,204.6) scale(1.07,1)" font-size="10.4" fill="#109c34" text-anchor="start">0.4</text>
<text transform="translate(377.0,142.5) scale(1.07,1)" font-size="10.4" fill="#109c34" text-anchor="start">0.6</text>
<text transform="translate(377.0,80.5) scale(1.07,1)" font-size="10.4" fill="#109c34" text-anchor="start">0.8</text>
<text transform="translate(377.0,22.8) scale(1.07,1)" font-size="10.4" fill="#109c34" text-anchor="start">1.0</text>
<text transform="translate(44.9,346.3) scale(1.07,1)" font-size="10.4" fill="#111" text-anchor="middle">0.10</text>
<text transform="translate(93.7,346.3) scale(1.07,1)" font-size="10.4" fill="#111" text-anchor="middle">0.15</text>
<text transform="translate(142.4,346.3) scale(1.07,1)" font-size="10.4" fill="#111" text-anchor="middle">0.20</text>
<text transform="translate(191.2,346.3) scale(1.07,1)" font-size="10.4" fill="#111" text-anchor="middle">0.25</text>
<text transform="translate(239.9,346.3) scale(1.07,1)" font-size="10.4" fill="#111" text-anchor="middle">0.30</text>
<text transform="translate(288.6,346.3) scale(1.07,1)" font-size="10.4" fill="#111" text-anchor="middle">0.35</text>
<text transform="translate(337.4,346.3) scale(1.07,1)" font-size="10.4" fill="#111" text-anchor="middle">0.40</text>
<text transform="translate(191.4,367.2) scale(1.07,1)" font-size="10.5" fill="#111" text-anchor="middle">Column-mean PDR</text>
<text transform="translate(143.0,42.9) scale(1.07,1)" font-size="17.3" fill="#000" text-anchor="middle" stroke="#000" stroke-width="0.12">Polluted Dust</text>
<text transform="translate(289.4,42.8) scale(1.07,1)" font-size="17.3" fill="#000" text-anchor="middle" stroke="#000" stroke-width="0.12">Dust</text>
<text transform="translate(327.8,27.4) scale(1.07,1)" font-size="11.4" fill="#222" text-anchor="middle">(a)</text>
<text transform="translate(16.7,166.4) rotate(-90) scale(1,1.07)" font-size="10.4" fill="#0000ff" text-anchor="middle">AE<tspan font-size="6.2" dy="2.6">440-870</tspan></text>
<text transform="translate(367.5,167.4) rotate(-90) scale(1,1.07)" font-size="10.4" fill="#ff0000" text-anchor="middle">Coarse-mode AOD<tspan font-size="6.2" dy="2.6">500</tspan></text>
<text transform="translate(401.8,167.2) rotate(-90) scale(1,1.07)" font-size="10.4" fill="#109c34" text-anchor="middle">CMF</text>
<path d="M438.1 90.0H442.5V81.9H438.1zM444.4 90.0H448.8V70.3H444.4zM450.7 90.0H455.1V70.3H450.7zM457.0 90.0H461.3V56.5H457.0zM463.2 90.0H467.6V42.8H463.2zM469.5 90.0H473.9V42.8H469.5zM475.7 90.0H480.1V33.3H475.7zM482.0 90.0H486.3V42.8H482.0zM488.2 90.0H492.6V52.7H488.2zM494.5 90.0H498.9V65.1H494.5zM500.8 90.0H505.2V76.6H500.8zM507.0 90.0H511.4V72.8H507.0zM513.3 90.0H517.7V80.4H513.3z" fill="#bfbfbf"/>
<polyline points="439.3,81.9 471.1,39.4 477.8,39.4 484.5,42.8 489.3,52.0 493.1,59.5 496.9,64.2 505.5,72.8 516.0,80.4 522.7,88.0" stroke="#000" stroke-width="2.2" fill="none" stroke-linejoin="round"/>
<rect x="435.5" y="11.8" width="97.7" height="78.2" fill="none" stroke="#000" stroke-width="1.5"/>
<path d="M435.5 90.0h1.8M533.2 90.0h-1.8M435.5 70.5h1.8M533.2 70.5h-1.8M435.5 50.9h1.8M533.2 50.9h-1.8M435.5 31.3h1.8M533.2 31.3h-1.8M435.5 11.8h1.8M533.2 11.8h-1.8M435.5 90.0v-1.6M435.5 11.8v1.6M451.8 90.0v-1.6M451.8 11.8v1.6M468.1 90.0v-1.6M468.1 11.8v1.6M484.4 90.0v-1.6M484.4 11.8v1.6M500.6 90.0v-1.6M500.6 11.8v1.6M516.9 90.0v-1.6M516.9 11.8v1.6M533.2 90.0v-1.6M533.2 11.8v1.6" stroke="#000" stroke-width="1" fill="none"/>
<text transform="translate(431.6,91.0) scale(1.07,1)" font-size="10.4" fill="#222" text-anchor="end">0</text>
<text transform="translate(431.6,76.8) scale(1.07,1)" font-size="10.4" fill="#222" text-anchor="end">5</text>
<text transform="translate(431.6,57.2) scale(1.07,1)" font-size="10.4" fill="#222" text-anchor="end">10</text>
<text transform="translate(431.6,37.6) scale(1.07,1)" font-size="10.4" fill="#222" text-anchor="end">15</text>
<text transform="translate(431.6,22.0) scale(1.07,1)" font-size="10.4" fill="#222" text-anchor="end">20</text>
<text transform="translate(435.5,110.7) scale(1.05,1)" font-size="8.9" fill="#222" text-anchor="middle">0.1</text>
<text transform="translate(468.1,110.7) scale(1.05,1)" font-size="8.9" fill="#222" text-anchor="middle">0.2</text>
<text transform="translate(500.6,110.7) scale(1.05,1)" font-size="8.9" fill="#222" text-anchor="middle">0.3</text>
<text transform="translate(533.2,110.7) scale(1.05,1)" font-size="8.9" fill="#222" text-anchor="middle">0.4</text>
<text transform="translate(484.4,122.4) scale(1.07,1)" font-size="10.0" fill="#111" text-anchor="middle">Column-mean PDR</text>
<text transform="translate(523.2,24.2) scale(1.07,1)" font-size="11.4" fill="#222" text-anchor="middle">(b)</text>
<text transform="translate(411.6,51.2) rotate(-90) scale(1,1.07)" font-size="10.2" fill="#222" text-anchor="middle">Frequency (%)</text>
<path d="M438.7 206.2H445.0V196.0H438.7zM446.9 206.2H453.2V182.7H446.9zM455.1 206.2H461.4V172.9H455.1zM463.3 206.2H469.6V159.2H463.3zM471.5 206.2H477.8V151.0H471.5zM479.7 206.2H486.0V178.3H479.7zM487.9 206.2H494.2V176.7H487.9zM496.1 206.2H502.4V186.9H496.1zM504.4 206.2H510.7V200.2H504.4zM512.6 206.2H518.9V202.1H512.6zM520.8 206.2H527.1V204.3H520.8z" fill="#bfbfbf"/>
<polyline points="442.5,195.1 466.4,160.5 475.0,162.6 482.6,168.7 491.2,180.2 498.8,187.8 507.4,196.4 516.0,201.6 531.3,205.4" stroke="#0000ff" stroke-width="2.2" fill="none" stroke-linejoin="round"/>
<rect x="435.5" y="128.0" width="97.7" height="78.2" fill="none" stroke="#000" stroke-width="1.5"/>
<path d="M435.5 206.2h1.8M533.2 206.2h-1.8M435.5 180.1h1.8M533.2 180.1h-1.8M435.5 154.1h1.8M533.2 154.1h-1.8M435.5 128.0h1.8M533.2 128.0h-1.8M435.5 206.2v-1.6M435.5 128.0v1.6M451.8 206.2v-1.6M451.8 128.0v1.6M468.1 206.2v-1.6M468.1 128.0v1.6M484.4 206.2v-1.6M484.4 128.0v1.6M500.6 206.2v-1.6M500.6 128.0v1.6M516.9 206.2v-1.6M516.9 128.0v1.6M533.2 206.2v-1.6M533.2 128.0v1.6" stroke="#000" stroke-width="1" fill="none"/>
<text transform="translate(431.6,207.2) scale(1.07,1)" font-size="10.4" fill="#222" text-anchor="end">0</text>
<text transform="translate(431.6,186.4) scale(1.07,1)" font-size="10.4" fill="#222" text-anchor="end">10</text>
<text transform="translate(431.6,160.4) scale(1.07,1)" font-size="10.4" fill="#222" text-anchor="end">20</text>
<text transform="translate(431.6,138.2) scale(1.07,1)" font-size="10.4" fill="#222" text-anchor="end">30</text>
<text transform="translate(435.5,226.9) scale(1.05,1)" font-size="8.9" fill="#222" text-anchor="middle">0.0</text>
<text transform="translate(468.1,226.9) scale(1.05,1)" font-size="8.9" fill="#222" text-anchor="middle">0.4</text>
<text transform="translate(500.6,226.9) scale(1.05,1)" font-size="8.9" fill="#222" text-anchor="middle">0.8</text>
<text transform="translate(533.2,226.9) scale(1.05,1)" font-size="8.9" fill="#222" text-anchor="middle">1.2</text>
<text transform="translate(484.4,238.5) scale(1.07,1)" font-size="10.0" fill="#111" text-anchor="middle">AE<tspan font-size="6.2" dy="2.6">440-870</tspan></text>
<text transform="translate(523.2,140.4) scale(1.07,1)" font-size="11.4" fill="#222" text-anchor="middle">(c)</text>
<text transform="translate(411.6,167.4) rotate(-90) scale(1,1.07)" font-size="10.2" fill="#222" text-anchor="middle">Frequency (%)</text>
<path d="M439.3 321.9H445.4V315.8H439.3zM447.3 321.9H453.4V314.7H447.3zM455.3 321.9H461.2V307.3H455.3zM463.1 321.9H469.2V282.8H463.1zM471.1 321.9H477.1V290.8H471.1zM479.0 321.9H484.9V256.7H479.0zM487.0 321.9H492.7V272.3H487.0zM494.6 321.9H500.3V288.0H494.6zM502.4 321.9H508.4V311.1H502.4zM510.3 321.9H516.1V320.3H510.3z" fill="#bfbfbf"/>
<polyline points="443.8,315.7 451.1,312.4 458.7,301.9 467.3,293.7 476.3,276.5 484.5,272.9 492.5,271.7 516.0,319.1" stroke="#008a00" stroke-width="2.2" fill="none" stroke-linejoin="round"/>
<rect x="435.5" y="243.8" width="97.7" height="78.1" fill="none" stroke="#000" stroke-width="1.5"/>
<path d="M435.5 321.9h1.8M533.2 321.9h-1.8M435.5 295.9h1.8M533.2 295.9h-1.8M435.5 269.8h1.8M533.2 269.8h-1.8M435.5 243.8h1.8M533.2 243.8h-1.8M435.5 321.9v-1.6M435.5 243.8v1.6M451.8 321.9v-1.6M451.8 243.8v1.6M468.1 321.9v-1.6M468.1 243.8v1.6M484.4 321.9v-1.6M484.4 243.8v1.6M500.6 321.9v-1.6M500.6 243.8v1.6M516.9 321.9v-1.6M516.9 243.8v1.6M533.2 321.9v-1.6M533.2 243.8v1.6" stroke="#000" stroke-width="1" fill="none"/>
<text transform="translate(431.6,322.9) scale(1.07,1)" font-size="10.4" fill="#222" text-anchor="end">0</text>
<text transform="translate(431.6,302.2) scale(1.07,1)" font-size="10.4" fill="#222" text-anchor="end">10</text>
<text transform="translate(431.6,276.1) scale(1.07,1)" font-size="10.4" fill="#222" text-anchor="end">20</text>
<text transform="translate(431.6,254.0) scale(1.07,1)" font-size="10.4" fill="#222" text-anchor="end">30</text>
<text transform="translate(435.5,342.6) scale(1.05,1)" font-size="8.9" fill="#222" text-anchor="middle">0.4</text>
<text transform="translate(468.1,342.6) scale(1.05,1)" font-size="8.9" fill="#222" text-anchor="middle">0.6</text>
<text transform="translate(500.6,342.6) scale(1.05,1)" font-size="8.9" fill="#222" text-anchor="middle">0.8</text>
<text transform="translate(533.2,342.6) scale(1.05,1)" font-size="8.9" fill="#222" text-anchor="middle">1.0</text>
<text transform="translate(484.4,354.3) scale(1.07,1)" font-size="10.0" fill="#111" text-anchor="middle">CMF</text>
<text transform="translate(523.2,256.2) scale(1.07,1)" font-size="11.4" fill="#222" text-anchor="middle">(d)</text>
<text transform="translate(411.6,283.2) rotate(-90) scale(1,1.07)" font-size="10.2" fill="#222" text-anchor="middle">Frequency (%)</text>
</svg>
</body></html>
